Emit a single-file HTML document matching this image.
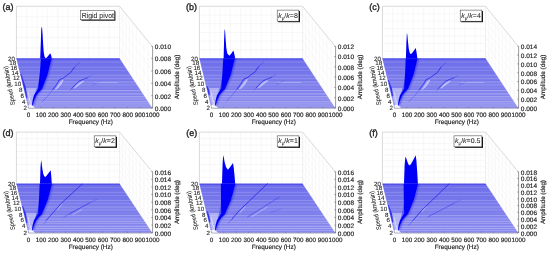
<!DOCTYPE html><html><head><meta charset="utf-8"><style>html,body{margin:0;padding:0;background:#fff;}svg{display:block}</style></head><body>
<svg width="550" height="253" viewBox="0 0 550 253" style="font-family:'Liberation Sans',Arial,sans-serif"><style>text{stroke:#252525;stroke-width:.18px;text-rendering:geometricPrecision}</style>
<defs><filter id="bl" x="0" y="0" width="100%" height="100%" filterUnits="userSpaceOnUse"><feGaussianBlur stdDeviation="0.3"/></filter></defs>
<rect width="550" height="253" fill="#fff"/>
<g filter="url(#bl)">
<g transform="translate(0,0)" fill="#252525" stroke-width=".2">
<line x1="21.56" y1="6.3" x2="21.56" y2="58.5" stroke="#f8f8f8" stroke-width=".5"/>
<line x1="31.88" y1="6.3" x2="31.88" y2="58.5" stroke="#f8f8f8" stroke-width=".5"/>
<line x1="42.2" y1="6.3" x2="42.2" y2="58.5" stroke="#f8f8f8" stroke-width=".5"/>
<line x1="52.52" y1="6.3" x2="52.52" y2="58.5" stroke="#f8f8f8" stroke-width=".5"/>
<line x1="62.84" y1="6.3" x2="62.84" y2="58.5" stroke="#f8f8f8" stroke-width=".5"/>
<line x1="73.16" y1="6.3" x2="73.16" y2="58.5" stroke="#f8f8f8" stroke-width=".5"/>
<line x1="83.48" y1="6.3" x2="83.48" y2="58.5" stroke="#f8f8f8" stroke-width=".5"/>
<line x1="93.8" y1="6.3" x2="93.8" y2="58.5" stroke="#f8f8f8" stroke-width=".5"/>
<line x1="104.12" y1="6.3" x2="104.12" y2="58.5" stroke="#f8f8f8" stroke-width=".5"/>
<line x1="114.44" y1="6.3" x2="114.44" y2="58.5" stroke="#f8f8f8" stroke-width=".5"/>
<line x1="26.72" y1="6.3" x2="26.72" y2="58.5" stroke="#efefef" stroke-width=".5"/>
<line x1="37.04" y1="6.3" x2="37.04" y2="58.5" stroke="#efefef" stroke-width=".5"/>
<line x1="47.36" y1="6.3" x2="47.36" y2="58.5" stroke="#efefef" stroke-width=".5"/>
<line x1="57.68" y1="6.3" x2="57.68" y2="58.5" stroke="#efefef" stroke-width=".5"/>
<line x1="68" y1="6.3" x2="68" y2="58.5" stroke="#efefef" stroke-width=".5"/>
<line x1="78.32" y1="6.3" x2="78.32" y2="58.5" stroke="#efefef" stroke-width=".5"/>
<line x1="88.64" y1="6.3" x2="88.64" y2="58.5" stroke="#efefef" stroke-width=".5"/>
<line x1="98.96" y1="6.3" x2="98.96" y2="58.5" stroke="#efefef" stroke-width=".5"/>
<line x1="109.28" y1="6.3" x2="109.28" y2="58.5" stroke="#efefef" stroke-width=".5"/>
<line x1="16.4" y1="48.06" x2="119.6" y2="48.06" stroke="#efefef" stroke-width=".5"/>
<line x1="119.6" y1="48.06" x2="152.2" y2="95.66" stroke="#f2f2f2" stroke-width=".5"/>
<line x1="16.4" y1="37.62" x2="119.6" y2="37.62" stroke="#efefef" stroke-width=".5"/>
<line x1="119.6" y1="37.62" x2="152.2" y2="83.32" stroke="#f2f2f2" stroke-width=".5"/>
<line x1="16.4" y1="27.18" x2="119.6" y2="27.18" stroke="#efefef" stroke-width=".5"/>
<line x1="119.6" y1="27.18" x2="152.2" y2="70.98" stroke="#f2f2f2" stroke-width=".5"/>
<line x1="16.4" y1="16.74" x2="119.6" y2="16.74" stroke="#efefef" stroke-width=".5"/>
<line x1="119.6" y1="16.74" x2="152.2" y2="58.64" stroke="#f2f2f2" stroke-width=".5"/>
<line x1="147.96" y1="101.57" x2="147.96" y2="41.1" stroke="#f0f0f0" stroke-width=".5"/>
<line x1="143.9" y1="95.4" x2="143.9" y2="36.12" stroke="#f0f0f0" stroke-width=".5"/>
<line x1="140.01" y1="89.49" x2="140.01" y2="31.34" stroke="#f0f0f0" stroke-width=".5"/>
<line x1="136.27" y1="83.81" x2="136.27" y2="26.75" stroke="#f0f0f0" stroke-width=".5"/>
<line x1="132.67" y1="78.35" x2="132.67" y2="22.34" stroke="#f0f0f0" stroke-width=".5"/>
<line x1="129.22" y1="73.1" x2="129.22" y2="18.1" stroke="#f0f0f0" stroke-width=".5"/>
<line x1="125.89" y1="68.05" x2="125.89" y2="14.02" stroke="#f0f0f0" stroke-width=".5"/>
<line x1="122.69" y1="63.19" x2="122.69" y2="10.09" stroke="#f0f0f0" stroke-width=".5"/>
<polyline points="16.4,58.5 16.4,6.3 119.6,6.3 152.2,46.3" fill="none" stroke="#c8c8c8" stroke-width=".7"/>
<line x1="119.6" y1="6.3" x2="119.6" y2="58.5" stroke="#e0e0e0" stroke-width=".5"/>
<polygon points="16.4,58.5 119.6,58.5 152.2,108.0 28.3,108.0" fill="#fff"/>
<path d="M16.4 58.5H119.6M16.51 58.96H119.9M16.62 59.42H120.21M16.73 59.89H120.51M16.85 60.35H120.82M16.96 60.82H121.13M17.07 61.29H121.44M17.18 61.76H121.75M17.3 62.24H122.06M17.41 62.71H122.37M17.53 63.19H122.69M17.64 63.67H123M17.76 64.15H123.32M17.87 64.63H123.64M17.99 65.11H123.95M18.11 65.6H124.27M18.22 66.08H124.59M18.34 66.57H124.92M18.46 67.06H125.24M18.58 67.56H125.56M18.7 68.05H125.89M18.82 68.55H126.22M18.94 69.05H126.55M19.06 69.55H126.88M19.18 70.05H127.21M19.3 70.55H127.54M19.42 71.06H127.87M19.54 71.57H128.21M19.66 72.08H128.54M19.79 72.59H128.88M19.91 73.1H129.22M20.03 73.62H129.56M20.16 74.14H129.9M20.28 74.65H130.24M20.41 75.18H130.58M20.54 75.7H130.93M20.66 76.23H131.27M20.79 76.75H131.62M20.92 77.28H131.97M21.04 77.82H132.32M21.17 78.35H132.67M21.3 78.89H133.03M21.43 79.42H133.38M21.56 79.96H133.74M21.69 80.51H134.09M21.82 81.05H134.45M21.95 81.6H134.81M22.08 82.15H135.17M22.22 82.7H135.54M22.35 83.25H135.9M22.48 83.81H136.27M22.62 84.36H136.63M22.75 84.92H137M22.89 85.49H137.37M23.02 86.05H137.74M23.16 86.62H138.12M23.3 87.19H138.49M23.43 87.76H138.87M23.57 88.33H139.25M23.71 88.91H139.63M23.85 89.49H140.01M23.99 90.07H140.39M24.13 90.65H140.77M24.27 91.24H141.16M24.41 91.82H141.55M24.55 92.41H141.93M24.7 93.01H142.32M24.84 93.6H142.72M24.98 94.2H143.11M25.13 94.8H143.51M25.27 95.4H143.9M25.42 96.01H144.3M25.56 96.61H144.7M25.71 97.22H145.1M25.86 97.84H145.51M26 98.45H145.91M26.15 99.07H146.32M26.3 99.69H146.73M26.45 100.31H147.14M26.6 100.94H147.55M26.75 101.57H147.96M26.91 102.2H148.38M27.06 102.83H148.8M27.21 103.47H149.22M27.36 104.11H149.64M27.52 104.75H150.06M27.67 105.39H150.48M27.83 106.04H150.91M27.99 106.69H151.34M28.14 107.34H151.77M28.3 108H152.2" stroke="#0000dc" stroke-width=".35" fill="none"/>
<line x1="17.27" y1="62.1" x2="121.97" y2="62.1" stroke="#fff" stroke-width=".7" stroke-opacity="0.25"/>
<line x1="18.47" y1="67.1" x2="125.26" y2="67.1" stroke="#fff" stroke-width=".7" stroke-opacity="0.25"/>
<line x1="19.26" y1="70.4" x2="127.44" y2="70.4" stroke="#fff" stroke-width=".7" stroke-opacity="0.2"/>
<line x1="20.46" y1="75.4" x2="130.73" y2="75.4" stroke="#fff" stroke-width=".7" stroke-opacity="0.25"/>
<line x1="21.26" y1="78.7" x2="132.9" y2="78.7" stroke="#fff" stroke-width=".7" stroke-opacity="0.25"/>
<line x1="22.05" y1="82" x2="135.08" y2="82" stroke="#fff" stroke-width=".7" stroke-opacity="0.35"/>
<line x1="22.77" y1="85" x2="137.05" y2="85" stroke="#fff" stroke-width=".7" stroke-opacity="0.3"/>
<line x1="24.09" y1="90.5" x2="140.67" y2="90.5" stroke="#fff" stroke-width=".7" stroke-opacity="0.35"/>
<line x1="24.89" y1="93.8" x2="142.85" y2="93.8" stroke="#fff" stroke-width=".7" stroke-opacity="0.4"/>
<line x1="25.56" y1="96.6" x2="144.69" y2="96.6" stroke="#fff" stroke-width=".7" stroke-opacity="0.4"/>
<line x1="26.09" y1="98.8" x2="146.14" y2="98.8" stroke="#fff" stroke-width=".7" stroke-opacity="0.3"/>
<line x1="26.76" y1="101.6" x2="147.99" y2="101.6" stroke="#fff" stroke-width=".7" stroke-opacity="0.4"/>
<line x1="27.29" y1="103.8" x2="149.43" y2="103.8" stroke="#fff" stroke-width=".7" stroke-opacity="0.4"/>
<line x1="27.82" y1="106" x2="150.88" y2="106" stroke="#fff" stroke-width=".7" stroke-opacity="0.3"/>
<line x1="16.4" y1="59.2" x2="120.1" y2="59.2" stroke="#2020f0" stroke-width="1" stroke-opacity=".35"/>
<polygon points="20.53,74 21.33,74 25.31,86.0 28.5,98 26.5,98.5" fill="#1a1cf8" opacity=".8"/>
<polygon points="26.09,88 36.5,88 34,95.5 32.7,100 31.8,105.6 29.5,105.5 27.38,100" fill="#d4d4fb" opacity=".55"/>
<polyline points="28,92 29.5,99 31.5,105" fill="none" stroke="#e8e8fe" stroke-width=".9" opacity=".8"/>
<polygon points="28.3,108.2 35.2,108.2 32.8,105.8 30.6,104.6 28.6,105" fill="#f6f6ff"/>
<polygon points="35.2,105.5 36.9,100 38.9,95.5 41.6,92 44.6,89 50.12,75 54.1,58.5 44.9,58.5 33,104" fill="#3034f0" opacity=".18"/>
<polygon points="33.9,105.5 35.6,100 37.6,95.5 40.3,92 43.3,89 48.82,75 52.8,58.5 44.9,58.5 33,104" fill="#2024f0" opacity=".3"/>
<polygon points="54.6,89.6 57.5,86 60,82 62.8,79.2 63.6,80.2 61.8,83.8 58.8,87.4 56,89.8" fill="#e2e2fd" opacity="0.6"/>
<polygon points="73.6,88.2 77,84.6 80.5,82 83.5,80.6 84,81.6 81,83.8 77.5,86.6 74.8,88.6" fill="#e2e2fd" opacity="0.6"/>
<polyline points="42.4,101.7 48.7,94.9 53.1,89.2" fill="none" stroke="#1418f0" stroke-width="0.6" stroke-linecap="round" stroke-linejoin="round" opacity="0.45"/>
<polyline points="53.1,89.2 56.5,84.5 59.8,79.4 62.8,78.4 66.5,75.5 70.6,72.7 74.2,67.4" fill="none" stroke="#1418f0" stroke-width="0.75" stroke-linecap="round" stroke-linejoin="round" opacity="0.95"/>
<polyline points="74.2,67.4 79.3,62.6" fill="none" stroke="#1418f0" stroke-width="0.6" stroke-linecap="round" stroke-linejoin="round" opacity="0.5"/>
<polyline points="70,90.7 71.9,88.3" fill="none" stroke="#1418f0" stroke-width="0.6" stroke-linecap="round" stroke-linejoin="round" opacity="0.35"/>
<polyline points="71.9,88.3 75,85 78.8,81.4 81.8,79.9 87.2,77.9" fill="none" stroke="#1418f0" stroke-width="0.7" stroke-linecap="round" stroke-linejoin="round" opacity="0.85"/>
<polyline points="87.2,77.9 91,75.5" fill="none" stroke="#1418f0" stroke-width="0.6" stroke-linecap="round" stroke-linejoin="round" opacity="0.4"/>
<polyline points="92.7,85.3 99,81.5" fill="none" stroke="#1418f0" stroke-width="0.6" stroke-linecap="round" stroke-linejoin="round" opacity="0.35"/>
<line x1="95" y1="82.5" x2="118" y2="82.5" stroke="#fff" stroke-width=".8" stroke-opacity=".3"/>
<polygon points="40.9,58.5 39.92,72 38.1,88.5 36,92 33.9,95.5 32.7,100 31.8,105.6 32.6,105.5 34.3,100 36.3,95.5 39,92 42,89 47.52,75 51.5,58.5" fill="#0505f8"/>
<polygon points="40.2,58.6 40.9,40 41.2,30 41.6,26.8 42.1,28 42.6,35 43.2,45 43.7,52 44.5,56.5 45.7,58.4 47,57.3 48.5,55.5 50.2,53.2 51,55 51.9,58.6" fill="#0000f6"/>
<line x1="28.3" y1="108.2" x2="152.2" y2="108.2" stroke="#9a9a9a" stroke-width=".6"/>
<line x1="152.6" y1="46.3" x2="152.6" y2="108.3" stroke="#555" stroke-width=".6"/>
<line x1="151.2" y1="108" x2="152.6" y2="108" stroke="#555" stroke-width=".5"/>
<line x1="151.2" y1="95.66" x2="152.6" y2="95.66" stroke="#555" stroke-width=".5"/>
<line x1="151.2" y1="83.32" x2="152.6" y2="83.32" stroke="#555" stroke-width=".5"/>
<line x1="151.2" y1="70.98" x2="152.6" y2="70.98" stroke="#555" stroke-width=".5"/>
<line x1="151.2" y1="58.64" x2="152.6" y2="58.64" stroke="#555" stroke-width=".5"/>
<line x1="151.2" y1="46.3" x2="152.6" y2="46.3" stroke="#555" stroke-width=".5"/>
<line x1="28.3" y1="108.0" x2="28.3" y2="106.8" stroke="#666" stroke-width=".5"/>
<line x1="40.69" y1="108.0" x2="40.69" y2="106.8" stroke="#666" stroke-width=".5"/>
<line x1="53.08" y1="108.0" x2="53.08" y2="106.8" stroke="#666" stroke-width=".5"/>
<line x1="65.47" y1="108.0" x2="65.47" y2="106.8" stroke="#666" stroke-width=".5"/>
<line x1="77.86" y1="108.0" x2="77.86" y2="106.8" stroke="#666" stroke-width=".5"/>
<line x1="90.25" y1="108.0" x2="90.25" y2="106.8" stroke="#666" stroke-width=".5"/>
<line x1="102.64" y1="108.0" x2="102.64" y2="106.8" stroke="#666" stroke-width=".5"/>
<line x1="115.03" y1="108.0" x2="115.03" y2="106.8" stroke="#666" stroke-width=".5"/>
<line x1="127.42" y1="108.0" x2="127.42" y2="106.8" stroke="#666" stroke-width=".5"/>
<line x1="139.81" y1="108.0" x2="139.81" y2="106.8" stroke="#666" stroke-width=".5"/>
<line x1="152.2" y1="108.0" x2="152.2" y2="106.8" stroke="#666" stroke-width=".5"/>
<text x="154.8" y="110.85" font-size="6.5">0.000</text>
<text x="154.8" y="98.51" font-size="6.5">0.002</text>
<text x="154.8" y="86.17" font-size="6.5">0.004</text>
<text x="154.8" y="73.83" font-size="6.5">0.006</text>
<text x="154.8" y="61.49" font-size="6.5">0.008</text>
<text x="154.8" y="49.15" font-size="6.5">0.010</text>
<text x="28.6" y="116.9" font-size="6.3" text-anchor="middle">0</text>
<text x="40.99" y="116.9" font-size="6.3" text-anchor="middle">100</text>
<text x="53.38" y="116.9" font-size="6.3" text-anchor="middle">200</text>
<text x="65.77" y="116.9" font-size="6.3" text-anchor="middle">300</text>
<text x="78.16" y="116.9" font-size="6.3" text-anchor="middle">400</text>
<text x="90.55" y="116.9" font-size="6.3" text-anchor="middle">500</text>
<text x="102.94" y="116.9" font-size="6.3" text-anchor="middle">600</text>
<text x="115.33" y="116.9" font-size="6.3" text-anchor="middle">700</text>
<text x="127.72" y="116.9" font-size="6.3" text-anchor="middle">800</text>
<text x="140.11" y="116.9" font-size="6.3" text-anchor="middle">900</text>
<text x="152.5" y="116.9" font-size="6.3" text-anchor="middle">1000</text>
<text x="26.9" y="110.1" font-size="6.2" text-anchor="end" style="stroke-width:.1px">2</text>
<text x="25.35" y="103.67" font-size="6.2" text-anchor="end" style="stroke-width:.1px">4</text>
<text x="23.87" y="97.5" font-size="6.2" text-anchor="end" style="stroke-width:.1px">6</text>
<text x="22.45" y="91.59" font-size="6.2" text-anchor="end" style="stroke-width:.1px">8</text>
<text x="21.08" y="85.91" font-size="6.2" text-anchor="end" style="stroke-width:.1px">10</text>
<text x="19.77" y="80.45" font-size="6.2" text-anchor="end" style="stroke-width:.1px">12</text>
<text x="18.51" y="75.2" font-size="6.2" text-anchor="end" style="stroke-width:.1px">14</text>
<text x="17.3" y="70.15" font-size="6.2" text-anchor="end" style="stroke-width:.1px">16</text>
<text x="16.13" y="65.29" font-size="6.2" text-anchor="end" style="stroke-width:.1px">18</text>
<text x="15" y="60.6" font-size="6.2" text-anchor="end" style="stroke-width:.1px">20</text>
<text x="90.75" y="124.4" font-size="6.4" text-anchor="middle">Frequency (Hz)</text>
<text transform="translate(179.3,77) rotate(-90)" font-size="6.3" text-anchor="middle">Amplitude (deg)</text>
<text transform="translate(9.15,85.65) rotate(-100.7) scale(.89,1)" y="2.2" font-size="6.3" text-anchor="middle" style="stroke-width:.08px">Speed (km/min)</text>
<text x="2.5" y="9.9" font-size="9" style="stroke-width:.35px">(a)</text>
<rect x="81.4" y="11.3" width="34" height="9.4" fill="#111"/>
<rect x="80.5" y="10.4" width="34" height="9.4" fill="#fff" stroke="#333" stroke-width=".5"/>
<text x="81.7" y="18" font-size="7.4" textLength="32.2" lengthAdjust="spacingAndGlyphs" style="stroke-width:.05px">Rigid pivot</text>
</g>
<g transform="translate(183,0)" fill="#252525" stroke-width=".2">
<line x1="21.56" y1="6.3" x2="21.56" y2="58.5" stroke="#f8f8f8" stroke-width=".5"/>
<line x1="31.88" y1="6.3" x2="31.88" y2="58.5" stroke="#f8f8f8" stroke-width=".5"/>
<line x1="42.2" y1="6.3" x2="42.2" y2="58.5" stroke="#f8f8f8" stroke-width=".5"/>
<line x1="52.52" y1="6.3" x2="52.52" y2="58.5" stroke="#f8f8f8" stroke-width=".5"/>
<line x1="62.84" y1="6.3" x2="62.84" y2="58.5" stroke="#f8f8f8" stroke-width=".5"/>
<line x1="73.16" y1="6.3" x2="73.16" y2="58.5" stroke="#f8f8f8" stroke-width=".5"/>
<line x1="83.48" y1="6.3" x2="83.48" y2="58.5" stroke="#f8f8f8" stroke-width=".5"/>
<line x1="93.8" y1="6.3" x2="93.8" y2="58.5" stroke="#f8f8f8" stroke-width=".5"/>
<line x1="104.12" y1="6.3" x2="104.12" y2="58.5" stroke="#f8f8f8" stroke-width=".5"/>
<line x1="114.44" y1="6.3" x2="114.44" y2="58.5" stroke="#f8f8f8" stroke-width=".5"/>
<line x1="26.72" y1="6.3" x2="26.72" y2="58.5" stroke="#efefef" stroke-width=".5"/>
<line x1="37.04" y1="6.3" x2="37.04" y2="58.5" stroke="#efefef" stroke-width=".5"/>
<line x1="47.36" y1="6.3" x2="47.36" y2="58.5" stroke="#efefef" stroke-width=".5"/>
<line x1="57.68" y1="6.3" x2="57.68" y2="58.5" stroke="#efefef" stroke-width=".5"/>
<line x1="68" y1="6.3" x2="68" y2="58.5" stroke="#efefef" stroke-width=".5"/>
<line x1="78.32" y1="6.3" x2="78.32" y2="58.5" stroke="#efefef" stroke-width=".5"/>
<line x1="88.64" y1="6.3" x2="88.64" y2="58.5" stroke="#efefef" stroke-width=".5"/>
<line x1="98.96" y1="6.3" x2="98.96" y2="58.5" stroke="#efefef" stroke-width=".5"/>
<line x1="109.28" y1="6.3" x2="109.28" y2="58.5" stroke="#efefef" stroke-width=".5"/>
<line x1="16.4" y1="49.8" x2="119.6" y2="49.8" stroke="#efefef" stroke-width=".5"/>
<line x1="119.6" y1="49.8" x2="152.2" y2="97.72" stroke="#f2f2f2" stroke-width=".5"/>
<line x1="16.4" y1="41.1" x2="119.6" y2="41.1" stroke="#efefef" stroke-width=".5"/>
<line x1="119.6" y1="41.1" x2="152.2" y2="87.43" stroke="#f2f2f2" stroke-width=".5"/>
<line x1="16.4" y1="32.4" x2="119.6" y2="32.4" stroke="#efefef" stroke-width=".5"/>
<line x1="119.6" y1="32.4" x2="152.2" y2="77.15" stroke="#f2f2f2" stroke-width=".5"/>
<line x1="16.4" y1="23.7" x2="119.6" y2="23.7" stroke="#efefef" stroke-width=".5"/>
<line x1="119.6" y1="23.7" x2="152.2" y2="66.87" stroke="#f2f2f2" stroke-width=".5"/>
<line x1="16.4" y1="15" x2="119.6" y2="15" stroke="#efefef" stroke-width=".5"/>
<line x1="119.6" y1="15" x2="152.2" y2="56.58" stroke="#f2f2f2" stroke-width=".5"/>
<line x1="147.96" y1="101.57" x2="147.96" y2="41.1" stroke="#f0f0f0" stroke-width=".5"/>
<line x1="143.9" y1="95.4" x2="143.9" y2="36.12" stroke="#f0f0f0" stroke-width=".5"/>
<line x1="140.01" y1="89.49" x2="140.01" y2="31.34" stroke="#f0f0f0" stroke-width=".5"/>
<line x1="136.27" y1="83.81" x2="136.27" y2="26.75" stroke="#f0f0f0" stroke-width=".5"/>
<line x1="132.67" y1="78.35" x2="132.67" y2="22.34" stroke="#f0f0f0" stroke-width=".5"/>
<line x1="129.22" y1="73.1" x2="129.22" y2="18.1" stroke="#f0f0f0" stroke-width=".5"/>
<line x1="125.89" y1="68.05" x2="125.89" y2="14.02" stroke="#f0f0f0" stroke-width=".5"/>
<line x1="122.69" y1="63.19" x2="122.69" y2="10.09" stroke="#f0f0f0" stroke-width=".5"/>
<polyline points="16.4,58.5 16.4,6.3 119.6,6.3 152.2,46.3" fill="none" stroke="#c8c8c8" stroke-width=".7"/>
<line x1="119.6" y1="6.3" x2="119.6" y2="58.5" stroke="#e0e0e0" stroke-width=".5"/>
<polygon points="16.4,58.5 119.6,58.5 152.2,108.0 28.3,108.0" fill="#fff"/>
<path d="M16.4 58.5H119.6M16.51 58.96H119.9M16.62 59.42H120.21M16.73 59.89H120.51M16.85 60.35H120.82M16.96 60.82H121.13M17.07 61.29H121.44M17.18 61.76H121.75M17.3 62.24H122.06M17.41 62.71H122.37M17.53 63.19H122.69M17.64 63.67H123M17.76 64.15H123.32M17.87 64.63H123.64M17.99 65.11H123.95M18.11 65.6H124.27M18.22 66.08H124.59M18.34 66.57H124.92M18.46 67.06H125.24M18.58 67.56H125.56M18.7 68.05H125.89M18.82 68.55H126.22M18.94 69.05H126.55M19.06 69.55H126.88M19.18 70.05H127.21M19.3 70.55H127.54M19.42 71.06H127.87M19.54 71.57H128.21M19.66 72.08H128.54M19.79 72.59H128.88M19.91 73.1H129.22M20.03 73.62H129.56M20.16 74.14H129.9M20.28 74.65H130.24M20.41 75.18H130.58M20.54 75.7H130.93M20.66 76.23H131.27M20.79 76.75H131.62M20.92 77.28H131.97M21.04 77.82H132.32M21.17 78.35H132.67M21.3 78.89H133.03M21.43 79.42H133.38M21.56 79.96H133.74M21.69 80.51H134.09M21.82 81.05H134.45M21.95 81.6H134.81M22.08 82.15H135.17M22.22 82.7H135.54M22.35 83.25H135.9M22.48 83.81H136.27M22.62 84.36H136.63M22.75 84.92H137M22.89 85.49H137.37M23.02 86.05H137.74M23.16 86.62H138.12M23.3 87.19H138.49M23.43 87.76H138.87M23.57 88.33H139.25M23.71 88.91H139.63M23.85 89.49H140.01M23.99 90.07H140.39M24.13 90.65H140.77M24.27 91.24H141.16M24.41 91.82H141.55M24.55 92.41H141.93M24.7 93.01H142.32M24.84 93.6H142.72M24.98 94.2H143.11M25.13 94.8H143.51M25.27 95.4H143.9M25.42 96.01H144.3M25.56 96.61H144.7M25.71 97.22H145.1M25.86 97.84H145.51M26 98.45H145.91M26.15 99.07H146.32M26.3 99.69H146.73M26.45 100.31H147.14M26.6 100.94H147.55M26.75 101.57H147.96M26.91 102.2H148.38M27.06 102.83H148.8M27.21 103.47H149.22M27.36 104.11H149.64M27.52 104.75H150.06M27.67 105.39H150.48M27.83 106.04H150.91M27.99 106.69H151.34M28.14 107.34H151.77M28.3 108H152.2" stroke="#0000dc" stroke-width=".35" fill="none"/>
<line x1="17.27" y1="62.1" x2="121.97" y2="62.1" stroke="#fff" stroke-width=".7" stroke-opacity="0.25"/>
<line x1="18.47" y1="67.1" x2="125.26" y2="67.1" stroke="#fff" stroke-width=".7" stroke-opacity="0.25"/>
<line x1="19.26" y1="70.4" x2="127.44" y2="70.4" stroke="#fff" stroke-width=".7" stroke-opacity="0.2"/>
<line x1="20.46" y1="75.4" x2="130.73" y2="75.4" stroke="#fff" stroke-width=".7" stroke-opacity="0.25"/>
<line x1="21.26" y1="78.7" x2="132.9" y2="78.7" stroke="#fff" stroke-width=".7" stroke-opacity="0.25"/>
<line x1="22.05" y1="82" x2="135.08" y2="82" stroke="#fff" stroke-width=".7" stroke-opacity="0.35"/>
<line x1="22.77" y1="85" x2="137.05" y2="85" stroke="#fff" stroke-width=".7" stroke-opacity="0.3"/>
<line x1="24.09" y1="90.5" x2="140.67" y2="90.5" stroke="#fff" stroke-width=".7" stroke-opacity="0.35"/>
<line x1="24.89" y1="93.8" x2="142.85" y2="93.8" stroke="#fff" stroke-width=".7" stroke-opacity="0.4"/>
<line x1="25.56" y1="96.6" x2="144.69" y2="96.6" stroke="#fff" stroke-width=".7" stroke-opacity="0.4"/>
<line x1="26.09" y1="98.8" x2="146.14" y2="98.8" stroke="#fff" stroke-width=".7" stroke-opacity="0.3"/>
<line x1="26.76" y1="101.6" x2="147.99" y2="101.6" stroke="#fff" stroke-width=".7" stroke-opacity="0.4"/>
<line x1="27.29" y1="103.8" x2="149.43" y2="103.8" stroke="#fff" stroke-width=".7" stroke-opacity="0.4"/>
<line x1="27.82" y1="106" x2="150.88" y2="106" stroke="#fff" stroke-width=".7" stroke-opacity="0.3"/>
<line x1="16.4" y1="59.2" x2="120.1" y2="59.2" stroke="#2020f0" stroke-width="1" stroke-opacity=".35"/>
<polygon points="23.41,86 24.21,86 26.33,90.25 27.65,94.5 25.65,95.0" fill="#1a1cf8" opacity=".8"/>
<polygon points="26.09,88 36.5,88 34,95.5 32.7,100 31.8,105.6 29.5,105.5 27.38,100" fill="#d4d4fb" opacity=".55"/>
<polyline points="28,92 29.5,99 31.5,105" fill="none" stroke="#e8e8fe" stroke-width=".9" opacity=".8"/>
<polygon points="28.3,108.2 35.2,108.2 32.8,105.8 30.6,104.6 28.6,105" fill="#f6f6ff"/>
<polygon points="35.2,105.5 36.9,100 38.9,95.5 41.6,92 44.6,89 50.34,75 54.5,58.5 44.2,58.5 33,104" fill="#3034f0" opacity=".18"/>
<polygon points="33.9,105.5 35.6,100 37.6,95.5 40.3,92 43.3,89 49.04,75 53.2,58.5 44.2,58.5 33,104" fill="#2024f0" opacity=".3"/>
<polygon points="55.8,89.1 58.7,85.5 61.2,81.5 64,78.7 64.8,79.7 63,83.3 60,86.9 57.2,89.3" fill="#e2e2fd" opacity="0.6"/>
<polygon points="74.8,87.7 78.2,84.1 81.7,81.5 84.7,80.1 85.2,81.1 82.2,83.3 78.7,86.1 76,88.1" fill="#e2e2fd" opacity="0.6"/>
<polyline points="43.6,101.2 49.9,94.4 54.3,88.7" fill="none" stroke="#1418f0" stroke-width="0.6" stroke-linecap="round" stroke-linejoin="round" opacity="0.45"/>
<polyline points="54.3,88.7 57.7,84 61,78.9 64,77.9 67.7,75 71.8,72.2 75.4,66.9" fill="none" stroke="#1418f0" stroke-width="0.75" stroke-linecap="round" stroke-linejoin="round" opacity="0.95"/>
<polyline points="75.4,66.9 80.5,62.1" fill="none" stroke="#1418f0" stroke-width="0.6" stroke-linecap="round" stroke-linejoin="round" opacity="0.5"/>
<polyline points="71.2,90.2 73.1,87.8" fill="none" stroke="#1418f0" stroke-width="0.6" stroke-linecap="round" stroke-linejoin="round" opacity="0.35"/>
<polyline points="73.1,87.8 76.2,84.5 80,80.9 83,79.4 88.4,77.4" fill="none" stroke="#1418f0" stroke-width="0.7" stroke-linecap="round" stroke-linejoin="round" opacity="0.85"/>
<polyline points="88.4,77.4 92.2,75" fill="none" stroke="#1418f0" stroke-width="0.6" stroke-linecap="round" stroke-linejoin="round" opacity="0.4"/>
<polyline points="93.9,84.8 100.2,81" fill="none" stroke="#1418f0" stroke-width="0.6" stroke-linecap="round" stroke-linejoin="round" opacity="0.35"/>
<line x1="95" y1="82.5" x2="118" y2="82.5" stroke="#fff" stroke-width=".8" stroke-opacity=".3"/>
<polygon points="40.2,58.5 39.47,72 38.1,88.5 36,92 33.9,95.5 32.7,100 31.8,105.6 32.6,105.5 34.3,100 36.3,95.5 39,92 42,89 47.74,75 51.9,58.5" fill="#0505f8"/>
<polygon points="40.6,58.6 41.1,40 41.6,29.1 42.1,31 42.7,40 43.3,48 44.3,53.5 46.3,55.7 48,54 50.4,50.6 51.2,53.5 52.2,58.6" fill="#0000f6"/>
<line x1="28.3" y1="108.2" x2="152.2" y2="108.2" stroke="#9a9a9a" stroke-width=".6"/>
<line x1="152.6" y1="46.3" x2="152.6" y2="108.3" stroke="#555" stroke-width=".6"/>
<line x1="151.2" y1="108" x2="152.6" y2="108" stroke="#555" stroke-width=".5"/>
<line x1="151.2" y1="97.72" x2="152.6" y2="97.72" stroke="#555" stroke-width=".5"/>
<line x1="151.2" y1="87.43" x2="152.6" y2="87.43" stroke="#555" stroke-width=".5"/>
<line x1="151.2" y1="77.15" x2="152.6" y2="77.15" stroke="#555" stroke-width=".5"/>
<line x1="151.2" y1="66.87" x2="152.6" y2="66.87" stroke="#555" stroke-width=".5"/>
<line x1="151.2" y1="56.58" x2="152.6" y2="56.58" stroke="#555" stroke-width=".5"/>
<line x1="151.2" y1="46.3" x2="152.6" y2="46.3" stroke="#555" stroke-width=".5"/>
<line x1="28.3" y1="108.0" x2="28.3" y2="106.8" stroke="#666" stroke-width=".5"/>
<line x1="40.69" y1="108.0" x2="40.69" y2="106.8" stroke="#666" stroke-width=".5"/>
<line x1="53.08" y1="108.0" x2="53.08" y2="106.8" stroke="#666" stroke-width=".5"/>
<line x1="65.47" y1="108.0" x2="65.47" y2="106.8" stroke="#666" stroke-width=".5"/>
<line x1="77.86" y1="108.0" x2="77.86" y2="106.8" stroke="#666" stroke-width=".5"/>
<line x1="90.25" y1="108.0" x2="90.25" y2="106.8" stroke="#666" stroke-width=".5"/>
<line x1="102.64" y1="108.0" x2="102.64" y2="106.8" stroke="#666" stroke-width=".5"/>
<line x1="115.03" y1="108.0" x2="115.03" y2="106.8" stroke="#666" stroke-width=".5"/>
<line x1="127.42" y1="108.0" x2="127.42" y2="106.8" stroke="#666" stroke-width=".5"/>
<line x1="139.81" y1="108.0" x2="139.81" y2="106.8" stroke="#666" stroke-width=".5"/>
<line x1="152.2" y1="108.0" x2="152.2" y2="106.8" stroke="#666" stroke-width=".5"/>
<text x="154.8" y="110.85" font-size="6.5">0.000</text>
<text x="154.8" y="100.57" font-size="6.5">0.002</text>
<text x="154.8" y="90.28" font-size="6.5">0.004</text>
<text x="154.8" y="80" font-size="6.5">0.006</text>
<text x="154.8" y="69.72" font-size="6.5">0.008</text>
<text x="154.8" y="59.43" font-size="6.5">0.010</text>
<text x="154.8" y="49.15" font-size="6.5">0.012</text>
<text x="28.6" y="116.9" font-size="6.3" text-anchor="middle">0</text>
<text x="40.99" y="116.9" font-size="6.3" text-anchor="middle">100</text>
<text x="53.38" y="116.9" font-size="6.3" text-anchor="middle">200</text>
<text x="65.77" y="116.9" font-size="6.3" text-anchor="middle">300</text>
<text x="78.16" y="116.9" font-size="6.3" text-anchor="middle">400</text>
<text x="90.55" y="116.9" font-size="6.3" text-anchor="middle">500</text>
<text x="102.94" y="116.9" font-size="6.3" text-anchor="middle">600</text>
<text x="115.33" y="116.9" font-size="6.3" text-anchor="middle">700</text>
<text x="127.72" y="116.9" font-size="6.3" text-anchor="middle">800</text>
<text x="140.11" y="116.9" font-size="6.3" text-anchor="middle">900</text>
<text x="152.5" y="116.9" font-size="6.3" text-anchor="middle">1000</text>
<text x="26.9" y="110.1" font-size="6.2" text-anchor="end" style="stroke-width:.1px">2</text>
<text x="25.35" y="103.67" font-size="6.2" text-anchor="end" style="stroke-width:.1px">4</text>
<text x="23.87" y="97.5" font-size="6.2" text-anchor="end" style="stroke-width:.1px">6</text>
<text x="22.45" y="91.59" font-size="6.2" text-anchor="end" style="stroke-width:.1px">8</text>
<text x="21.08" y="85.91" font-size="6.2" text-anchor="end" style="stroke-width:.1px">10</text>
<text x="19.77" y="80.45" font-size="6.2" text-anchor="end" style="stroke-width:.1px">12</text>
<text x="18.51" y="75.2" font-size="6.2" text-anchor="end" style="stroke-width:.1px">14</text>
<text x="17.3" y="70.15" font-size="6.2" text-anchor="end" style="stroke-width:.1px">16</text>
<text x="16.13" y="65.29" font-size="6.2" text-anchor="end" style="stroke-width:.1px">18</text>
<text x="15" y="60.6" font-size="6.2" text-anchor="end" style="stroke-width:.1px">20</text>
<text x="90.75" y="124.4" font-size="6.4" text-anchor="middle">Frequency (Hz)</text>
<text transform="translate(179.3,77) rotate(-90)" font-size="6.3" text-anchor="middle">Amplitude (deg)</text>
<text transform="translate(9.15,85.65) rotate(-100.7) scale(.89,1)" y="2.2" font-size="6.3" text-anchor="middle" style="stroke-width:.08px">Speed (km/min)</text>
<text x="3" y="9.9" font-size="9" style="stroke-width:.35px">(b)</text>
<rect x="95.3" y="11.1" width="21.7" height="11.1" fill="#111"/>
<rect x="94.2" y="10.1" width="21.7" height="11.1" fill="#fff" stroke="#333" stroke-width=".5"/>
<text x="95.3" y="17.6" font-size="7" style="stroke-width:.05px"><tspan font-style="italic">k</tspan><tspan font-size="4.6" dy="1.9">p</tspan><tspan dy="-1.9">/</tspan><tspan font-style="italic">k</tspan>=8</text>
</g>
<g transform="translate(366,0)" fill="#252525" stroke-width=".2">
<line x1="21.56" y1="6.3" x2="21.56" y2="58.5" stroke="#f8f8f8" stroke-width=".5"/>
<line x1="31.88" y1="6.3" x2="31.88" y2="58.5" stroke="#f8f8f8" stroke-width=".5"/>
<line x1="42.2" y1="6.3" x2="42.2" y2="58.5" stroke="#f8f8f8" stroke-width=".5"/>
<line x1="52.52" y1="6.3" x2="52.52" y2="58.5" stroke="#f8f8f8" stroke-width=".5"/>
<line x1="62.84" y1="6.3" x2="62.84" y2="58.5" stroke="#f8f8f8" stroke-width=".5"/>
<line x1="73.16" y1="6.3" x2="73.16" y2="58.5" stroke="#f8f8f8" stroke-width=".5"/>
<line x1="83.48" y1="6.3" x2="83.48" y2="58.5" stroke="#f8f8f8" stroke-width=".5"/>
<line x1="93.8" y1="6.3" x2="93.8" y2="58.5" stroke="#f8f8f8" stroke-width=".5"/>
<line x1="104.12" y1="6.3" x2="104.12" y2="58.5" stroke="#f8f8f8" stroke-width=".5"/>
<line x1="114.44" y1="6.3" x2="114.44" y2="58.5" stroke="#f8f8f8" stroke-width=".5"/>
<line x1="26.72" y1="6.3" x2="26.72" y2="58.5" stroke="#efefef" stroke-width=".5"/>
<line x1="37.04" y1="6.3" x2="37.04" y2="58.5" stroke="#efefef" stroke-width=".5"/>
<line x1="47.36" y1="6.3" x2="47.36" y2="58.5" stroke="#efefef" stroke-width=".5"/>
<line x1="57.68" y1="6.3" x2="57.68" y2="58.5" stroke="#efefef" stroke-width=".5"/>
<line x1="68" y1="6.3" x2="68" y2="58.5" stroke="#efefef" stroke-width=".5"/>
<line x1="78.32" y1="6.3" x2="78.32" y2="58.5" stroke="#efefef" stroke-width=".5"/>
<line x1="88.64" y1="6.3" x2="88.64" y2="58.5" stroke="#efefef" stroke-width=".5"/>
<line x1="98.96" y1="6.3" x2="98.96" y2="58.5" stroke="#efefef" stroke-width=".5"/>
<line x1="109.28" y1="6.3" x2="109.28" y2="58.5" stroke="#efefef" stroke-width=".5"/>
<line x1="16.4" y1="51.04" x2="119.6" y2="51.04" stroke="#efefef" stroke-width=".5"/>
<line x1="119.6" y1="51.04" x2="152.2" y2="99.19" stroke="#f2f2f2" stroke-width=".5"/>
<line x1="16.4" y1="43.59" x2="119.6" y2="43.59" stroke="#efefef" stroke-width=".5"/>
<line x1="119.6" y1="43.59" x2="152.2" y2="90.37" stroke="#f2f2f2" stroke-width=".5"/>
<line x1="16.4" y1="36.13" x2="119.6" y2="36.13" stroke="#efefef" stroke-width=".5"/>
<line x1="119.6" y1="36.13" x2="152.2" y2="81.56" stroke="#f2f2f2" stroke-width=".5"/>
<line x1="16.4" y1="28.67" x2="119.6" y2="28.67" stroke="#efefef" stroke-width=".5"/>
<line x1="119.6" y1="28.67" x2="152.2" y2="72.74" stroke="#f2f2f2" stroke-width=".5"/>
<line x1="16.4" y1="21.21" x2="119.6" y2="21.21" stroke="#efefef" stroke-width=".5"/>
<line x1="119.6" y1="21.21" x2="152.2" y2="63.93" stroke="#f2f2f2" stroke-width=".5"/>
<line x1="16.4" y1="13.76" x2="119.6" y2="13.76" stroke="#efefef" stroke-width=".5"/>
<line x1="119.6" y1="13.76" x2="152.2" y2="55.11" stroke="#f2f2f2" stroke-width=".5"/>
<line x1="147.96" y1="101.57" x2="147.96" y2="41.1" stroke="#f0f0f0" stroke-width=".5"/>
<line x1="143.9" y1="95.4" x2="143.9" y2="36.12" stroke="#f0f0f0" stroke-width=".5"/>
<line x1="140.01" y1="89.49" x2="140.01" y2="31.34" stroke="#f0f0f0" stroke-width=".5"/>
<line x1="136.27" y1="83.81" x2="136.27" y2="26.75" stroke="#f0f0f0" stroke-width=".5"/>
<line x1="132.67" y1="78.35" x2="132.67" y2="22.34" stroke="#f0f0f0" stroke-width=".5"/>
<line x1="129.22" y1="73.1" x2="129.22" y2="18.1" stroke="#f0f0f0" stroke-width=".5"/>
<line x1="125.89" y1="68.05" x2="125.89" y2="14.02" stroke="#f0f0f0" stroke-width=".5"/>
<line x1="122.69" y1="63.19" x2="122.69" y2="10.09" stroke="#f0f0f0" stroke-width=".5"/>
<polyline points="16.4,58.5 16.4,6.3 119.6,6.3 152.2,46.3" fill="none" stroke="#c8c8c8" stroke-width=".7"/>
<line x1="119.6" y1="6.3" x2="119.6" y2="58.5" stroke="#e0e0e0" stroke-width=".5"/>
<polygon points="16.4,58.5 119.6,58.5 152.2,108.0 28.3,108.0" fill="#fff"/>
<path d="M16.4 58.5H119.6M16.51 58.96H119.9M16.62 59.42H120.21M16.73 59.89H120.51M16.85 60.35H120.82M16.96 60.82H121.13M17.07 61.29H121.44M17.18 61.76H121.75M17.3 62.24H122.06M17.41 62.71H122.37M17.53 63.19H122.69M17.64 63.67H123M17.76 64.15H123.32M17.87 64.63H123.64M17.99 65.11H123.95M18.11 65.6H124.27M18.22 66.08H124.59M18.34 66.57H124.92M18.46 67.06H125.24M18.58 67.56H125.56M18.7 68.05H125.89M18.82 68.55H126.22M18.94 69.05H126.55M19.06 69.55H126.88M19.18 70.05H127.21M19.3 70.55H127.54M19.42 71.06H127.87M19.54 71.57H128.21M19.66 72.08H128.54M19.79 72.59H128.88M19.91 73.1H129.22M20.03 73.62H129.56M20.16 74.14H129.9M20.28 74.65H130.24M20.41 75.18H130.58M20.54 75.7H130.93M20.66 76.23H131.27M20.79 76.75H131.62M20.92 77.28H131.97M21.04 77.82H132.32M21.17 78.35H132.67M21.3 78.89H133.03M21.43 79.42H133.38M21.56 79.96H133.74M21.69 80.51H134.09M21.82 81.05H134.45M21.95 81.6H134.81M22.08 82.15H135.17M22.22 82.7H135.54M22.35 83.25H135.9M22.48 83.81H136.27M22.62 84.36H136.63M22.75 84.92H137M22.89 85.49H137.37M23.02 86.05H137.74M23.16 86.62H138.12M23.3 87.19H138.49M23.43 87.76H138.87M23.57 88.33H139.25M23.71 88.91H139.63M23.85 89.49H140.01M23.99 90.07H140.39M24.13 90.65H140.77M24.27 91.24H141.16M24.41 91.82H141.55M24.55 92.41H141.93M24.7 93.01H142.32M24.84 93.6H142.72M24.98 94.2H143.11M25.13 94.8H143.51M25.27 95.4H143.9M25.42 96.01H144.3M25.56 96.61H144.7M25.71 97.22H145.1M25.86 97.84H145.51M26 98.45H145.91M26.15 99.07H146.32M26.3 99.69H146.73M26.45 100.31H147.14M26.6 100.94H147.55M26.75 101.57H147.96M26.91 102.2H148.38M27.06 102.83H148.8M27.21 103.47H149.22M27.36 104.11H149.64M27.52 104.75H150.06M27.67 105.39H150.48M27.83 106.04H150.91M27.99 106.69H151.34M28.14 107.34H151.77M28.3 108H152.2" stroke="#0000dc" stroke-width=".35" fill="none"/>
<line x1="17.27" y1="62.1" x2="121.97" y2="62.1" stroke="#fff" stroke-width=".7" stroke-opacity="0.25"/>
<line x1="18.47" y1="67.1" x2="125.26" y2="67.1" stroke="#fff" stroke-width=".7" stroke-opacity="0.25"/>
<line x1="19.26" y1="70.4" x2="127.44" y2="70.4" stroke="#fff" stroke-width=".7" stroke-opacity="0.2"/>
<line x1="20.46" y1="75.4" x2="130.73" y2="75.4" stroke="#fff" stroke-width=".7" stroke-opacity="0.25"/>
<line x1="21.26" y1="78.7" x2="132.9" y2="78.7" stroke="#fff" stroke-width=".7" stroke-opacity="0.25"/>
<line x1="22.05" y1="82" x2="135.08" y2="82" stroke="#fff" stroke-width=".7" stroke-opacity="0.35"/>
<line x1="22.77" y1="85" x2="137.05" y2="85" stroke="#fff" stroke-width=".7" stroke-opacity="0.3"/>
<line x1="24.09" y1="90.5" x2="140.67" y2="90.5" stroke="#fff" stroke-width=".7" stroke-opacity="0.35"/>
<line x1="24.89" y1="93.8" x2="142.85" y2="93.8" stroke="#fff" stroke-width=".7" stroke-opacity="0.4"/>
<line x1="25.56" y1="96.6" x2="144.69" y2="96.6" stroke="#fff" stroke-width=".7" stroke-opacity="0.4"/>
<line x1="26.09" y1="98.8" x2="146.14" y2="98.8" stroke="#fff" stroke-width=".7" stroke-opacity="0.3"/>
<line x1="26.76" y1="101.6" x2="147.99" y2="101.6" stroke="#fff" stroke-width=".7" stroke-opacity="0.4"/>
<line x1="27.29" y1="103.8" x2="149.43" y2="103.8" stroke="#fff" stroke-width=".7" stroke-opacity="0.4"/>
<line x1="27.82" y1="106" x2="150.88" y2="106" stroke="#fff" stroke-width=".7" stroke-opacity="0.3"/>
<line x1="16.4" y1="59.2" x2="120.1" y2="59.2" stroke="#2020f0" stroke-width="1" stroke-opacity=".35"/>
<polygon points="21.97,80 22.77,80 25.79,88.0 28.02,96 26.02,96.5" fill="#1a1cf8" opacity=".8"/>
<polygon points="26.09,88 36.5,88 34,95.5 32.7,100 31.8,105.6 29.5,105.5 27.38,100" fill="#d4d4fb" opacity=".55"/>
<polyline points="28,92 29.5,99 31.5,105" fill="none" stroke="#e8e8fe" stroke-width=".9" opacity=".8"/>
<polygon points="28.3,108.2 35.2,108.2 32.8,105.8 30.6,104.6 28.6,105" fill="#f6f6ff"/>
<polygon points="35.2,105.5 36.9,100 38.9,95.5 41.6,92 44.6,89 50.12,75 54.1,58.5 43.7,58.5 33,104" fill="#3034f0" opacity=".18"/>
<polygon points="33.9,105.5 35.6,100 37.6,95.5 40.3,92 43.3,89 48.82,75 52.8,58.5 43.7,58.5 33,104" fill="#2024f0" opacity=".3"/>
<polygon points="55.2,89.6 58.1,86 60.6,82 63.4,79.2 64.2,80.2 62.4,83.8 59.4,87.4 56.6,89.8" fill="#e2e2fd" opacity="0.6"/>
<polygon points="74.2,88.2 77.6,84.6 81.1,82 84.1,80.6 84.6,81.6 81.6,83.8 78.1,86.6 75.4,88.6" fill="#e2e2fd" opacity="0.6"/>
<polyline points="43,101.7 49.3,94.9 53.7,89.2" fill="none" stroke="#1418f0" stroke-width="0.6" stroke-linecap="round" stroke-linejoin="round" opacity="0.45"/>
<polyline points="53.7,89.2 57.1,84.5 60.4,79.4 63.4,78.4 67.1,75.5 71.2,72.7 74.8,67.4" fill="none" stroke="#1418f0" stroke-width="0.75" stroke-linecap="round" stroke-linejoin="round" opacity="0.95"/>
<polyline points="74.8,67.4 79.9,62.6" fill="none" stroke="#1418f0" stroke-width="0.6" stroke-linecap="round" stroke-linejoin="round" opacity="0.5"/>
<polyline points="70.6,90.7 72.5,88.3" fill="none" stroke="#1418f0" stroke-width="0.6" stroke-linecap="round" stroke-linejoin="round" opacity="0.35"/>
<polyline points="72.5,88.3 75.6,85 79.4,81.4 82.4,79.9 87.8,77.9" fill="none" stroke="#1418f0" stroke-width="0.7" stroke-linecap="round" stroke-linejoin="round" opacity="0.85"/>
<polyline points="87.8,77.9 91.6,75.5" fill="none" stroke="#1418f0" stroke-width="0.6" stroke-linecap="round" stroke-linejoin="round" opacity="0.4"/>
<polyline points="93.3,85.3 99.6,81.5" fill="none" stroke="#1418f0" stroke-width="0.6" stroke-linecap="round" stroke-linejoin="round" opacity="0.35"/>
<line x1="95" y1="82.5" x2="118" y2="82.5" stroke="#fff" stroke-width=".8" stroke-opacity=".3"/>
<polygon points="39.7,58.5 39.14,72 38.1,88.5 36,92 33.9,95.5 32.7,100 31.8,105.6 32.6,105.5 34.3,100 36.3,95.5 39,92 42,89 47.52,75 51.5,58.5" fill="#0505f8"/>
<polygon points="39.9,58.6 40.4,42 40.9,33 41.4,35 42,42 42.8,49 43.8,53 44.9,54.2 46.5,52.5 49.7,48.1 50.5,52 51.4,58.6" fill="#0000f6"/>
<line x1="28.3" y1="108.2" x2="152.2" y2="108.2" stroke="#9a9a9a" stroke-width=".6"/>
<line x1="152.6" y1="46.3" x2="152.6" y2="108.3" stroke="#555" stroke-width=".6"/>
<line x1="151.2" y1="108" x2="152.6" y2="108" stroke="#555" stroke-width=".5"/>
<line x1="151.2" y1="99.19" x2="152.6" y2="99.19" stroke="#555" stroke-width=".5"/>
<line x1="151.2" y1="90.37" x2="152.6" y2="90.37" stroke="#555" stroke-width=".5"/>
<line x1="151.2" y1="81.56" x2="152.6" y2="81.56" stroke="#555" stroke-width=".5"/>
<line x1="151.2" y1="72.74" x2="152.6" y2="72.74" stroke="#555" stroke-width=".5"/>
<line x1="151.2" y1="63.93" x2="152.6" y2="63.93" stroke="#555" stroke-width=".5"/>
<line x1="151.2" y1="55.11" x2="152.6" y2="55.11" stroke="#555" stroke-width=".5"/>
<line x1="151.2" y1="46.3" x2="152.6" y2="46.3" stroke="#555" stroke-width=".5"/>
<line x1="28.3" y1="108.0" x2="28.3" y2="106.8" stroke="#666" stroke-width=".5"/>
<line x1="40.69" y1="108.0" x2="40.69" y2="106.8" stroke="#666" stroke-width=".5"/>
<line x1="53.08" y1="108.0" x2="53.08" y2="106.8" stroke="#666" stroke-width=".5"/>
<line x1="65.47" y1="108.0" x2="65.47" y2="106.8" stroke="#666" stroke-width=".5"/>
<line x1="77.86" y1="108.0" x2="77.86" y2="106.8" stroke="#666" stroke-width=".5"/>
<line x1="90.25" y1="108.0" x2="90.25" y2="106.8" stroke="#666" stroke-width=".5"/>
<line x1="102.64" y1="108.0" x2="102.64" y2="106.8" stroke="#666" stroke-width=".5"/>
<line x1="115.03" y1="108.0" x2="115.03" y2="106.8" stroke="#666" stroke-width=".5"/>
<line x1="127.42" y1="108.0" x2="127.42" y2="106.8" stroke="#666" stroke-width=".5"/>
<line x1="139.81" y1="108.0" x2="139.81" y2="106.8" stroke="#666" stroke-width=".5"/>
<line x1="152.2" y1="108.0" x2="152.2" y2="106.8" stroke="#666" stroke-width=".5"/>
<text x="154.8" y="110.85" font-size="6.5">0.000</text>
<text x="154.8" y="102.04" font-size="6.5">0.002</text>
<text x="154.8" y="93.22" font-size="6.5">0.004</text>
<text x="154.8" y="84.41" font-size="6.5">0.006</text>
<text x="154.8" y="75.59" font-size="6.5">0.008</text>
<text x="154.8" y="66.78" font-size="6.5">0.010</text>
<text x="154.8" y="57.96" font-size="6.5">0.012</text>
<text x="154.8" y="49.15" font-size="6.5">0.014</text>
<text x="28.6" y="116.9" font-size="6.3" text-anchor="middle">0</text>
<text x="40.99" y="116.9" font-size="6.3" text-anchor="middle">100</text>
<text x="53.38" y="116.9" font-size="6.3" text-anchor="middle">200</text>
<text x="65.77" y="116.9" font-size="6.3" text-anchor="middle">300</text>
<text x="78.16" y="116.9" font-size="6.3" text-anchor="middle">400</text>
<text x="90.55" y="116.9" font-size="6.3" text-anchor="middle">500</text>
<text x="102.94" y="116.9" font-size="6.3" text-anchor="middle">600</text>
<text x="115.33" y="116.9" font-size="6.3" text-anchor="middle">700</text>
<text x="127.72" y="116.9" font-size="6.3" text-anchor="middle">800</text>
<text x="140.11" y="116.9" font-size="6.3" text-anchor="middle">900</text>
<text x="152.5" y="116.9" font-size="6.3" text-anchor="middle">1000</text>
<text x="26.9" y="110.1" font-size="6.2" text-anchor="end" style="stroke-width:.1px">2</text>
<text x="25.35" y="103.67" font-size="6.2" text-anchor="end" style="stroke-width:.1px">4</text>
<text x="23.87" y="97.5" font-size="6.2" text-anchor="end" style="stroke-width:.1px">6</text>
<text x="22.45" y="91.59" font-size="6.2" text-anchor="end" style="stroke-width:.1px">8</text>
<text x="21.08" y="85.91" font-size="6.2" text-anchor="end" style="stroke-width:.1px">10</text>
<text x="19.77" y="80.45" font-size="6.2" text-anchor="end" style="stroke-width:.1px">12</text>
<text x="18.51" y="75.2" font-size="6.2" text-anchor="end" style="stroke-width:.1px">14</text>
<text x="17.3" y="70.15" font-size="6.2" text-anchor="end" style="stroke-width:.1px">16</text>
<text x="16.13" y="65.29" font-size="6.2" text-anchor="end" style="stroke-width:.1px">18</text>
<text x="15" y="60.6" font-size="6.2" text-anchor="end" style="stroke-width:.1px">20</text>
<text x="90.75" y="124.4" font-size="6.4" text-anchor="middle">Frequency (Hz)</text>
<text transform="translate(179.3,77) rotate(-90)" font-size="6.3" text-anchor="middle">Amplitude (deg)</text>
<text transform="translate(9.15,85.65) rotate(-100.7) scale(.89,1)" y="2.2" font-size="6.3" text-anchor="middle" style="stroke-width:.08px">Speed (km/min)</text>
<text x="3.3" y="9.9" font-size="9" style="stroke-width:.35px">(c)</text>
<rect x="95.3" y="11.1" width="21.7" height="11.1" fill="#111"/>
<rect x="94.2" y="10.1" width="21.7" height="11.1" fill="#fff" stroke="#333" stroke-width=".5"/>
<text x="95.3" y="17.6" font-size="7" style="stroke-width:.05px"><tspan font-style="italic">k</tspan><tspan font-size="4.6" dy="1.9">p</tspan><tspan dy="-1.9">/</tspan><tspan font-style="italic">k</tspan>=4</text>
</g>
<g transform="translate(0,125.86) scale(1,.99)" fill="#252525" stroke-width=".2">
<line x1="21.56" y1="6.3" x2="21.56" y2="58.5" stroke="#f8f8f8" stroke-width=".5"/>
<line x1="31.88" y1="6.3" x2="31.88" y2="58.5" stroke="#f8f8f8" stroke-width=".5"/>
<line x1="42.2" y1="6.3" x2="42.2" y2="58.5" stroke="#f8f8f8" stroke-width=".5"/>
<line x1="52.52" y1="6.3" x2="52.52" y2="58.5" stroke="#f8f8f8" stroke-width=".5"/>
<line x1="62.84" y1="6.3" x2="62.84" y2="58.5" stroke="#f8f8f8" stroke-width=".5"/>
<line x1="73.16" y1="6.3" x2="73.16" y2="58.5" stroke="#f8f8f8" stroke-width=".5"/>
<line x1="83.48" y1="6.3" x2="83.48" y2="58.5" stroke="#f8f8f8" stroke-width=".5"/>
<line x1="93.8" y1="6.3" x2="93.8" y2="58.5" stroke="#f8f8f8" stroke-width=".5"/>
<line x1="104.12" y1="6.3" x2="104.12" y2="58.5" stroke="#f8f8f8" stroke-width=".5"/>
<line x1="114.44" y1="6.3" x2="114.44" y2="58.5" stroke="#f8f8f8" stroke-width=".5"/>
<line x1="26.72" y1="6.3" x2="26.72" y2="58.5" stroke="#efefef" stroke-width=".5"/>
<line x1="37.04" y1="6.3" x2="37.04" y2="58.5" stroke="#efefef" stroke-width=".5"/>
<line x1="47.36" y1="6.3" x2="47.36" y2="58.5" stroke="#efefef" stroke-width=".5"/>
<line x1="57.68" y1="6.3" x2="57.68" y2="58.5" stroke="#efefef" stroke-width=".5"/>
<line x1="68" y1="6.3" x2="68" y2="58.5" stroke="#efefef" stroke-width=".5"/>
<line x1="78.32" y1="6.3" x2="78.32" y2="58.5" stroke="#efefef" stroke-width=".5"/>
<line x1="88.64" y1="6.3" x2="88.64" y2="58.5" stroke="#efefef" stroke-width=".5"/>
<line x1="98.96" y1="6.3" x2="98.96" y2="58.5" stroke="#efefef" stroke-width=".5"/>
<line x1="109.28" y1="6.3" x2="109.28" y2="58.5" stroke="#efefef" stroke-width=".5"/>
<line x1="16.4" y1="51.98" x2="119.6" y2="51.98" stroke="#efefef" stroke-width=".5"/>
<line x1="119.6" y1="51.98" x2="152.2" y2="100.29" stroke="#f2f2f2" stroke-width=".5"/>
<line x1="16.4" y1="45.45" x2="119.6" y2="45.45" stroke="#efefef" stroke-width=".5"/>
<line x1="119.6" y1="45.45" x2="152.2" y2="92.58" stroke="#f2f2f2" stroke-width=".5"/>
<line x1="16.4" y1="38.92" x2="119.6" y2="38.92" stroke="#efefef" stroke-width=".5"/>
<line x1="119.6" y1="38.92" x2="152.2" y2="84.86" stroke="#f2f2f2" stroke-width=".5"/>
<line x1="16.4" y1="32.4" x2="119.6" y2="32.4" stroke="#efefef" stroke-width=".5"/>
<line x1="119.6" y1="32.4" x2="152.2" y2="77.15" stroke="#f2f2f2" stroke-width=".5"/>
<line x1="16.4" y1="25.88" x2="119.6" y2="25.88" stroke="#efefef" stroke-width=".5"/>
<line x1="119.6" y1="25.88" x2="152.2" y2="69.44" stroke="#f2f2f2" stroke-width=".5"/>
<line x1="16.4" y1="19.35" x2="119.6" y2="19.35" stroke="#efefef" stroke-width=".5"/>
<line x1="119.6" y1="19.35" x2="152.2" y2="61.72" stroke="#f2f2f2" stroke-width=".5"/>
<line x1="16.4" y1="12.82" x2="119.6" y2="12.82" stroke="#efefef" stroke-width=".5"/>
<line x1="119.6" y1="12.82" x2="152.2" y2="54.01" stroke="#f2f2f2" stroke-width=".5"/>
<line x1="147.96" y1="101.57" x2="147.96" y2="41.1" stroke="#f0f0f0" stroke-width=".5"/>
<line x1="143.9" y1="95.4" x2="143.9" y2="36.12" stroke="#f0f0f0" stroke-width=".5"/>
<line x1="140.01" y1="89.49" x2="140.01" y2="31.34" stroke="#f0f0f0" stroke-width=".5"/>
<line x1="136.27" y1="83.81" x2="136.27" y2="26.75" stroke="#f0f0f0" stroke-width=".5"/>
<line x1="132.67" y1="78.35" x2="132.67" y2="22.34" stroke="#f0f0f0" stroke-width=".5"/>
<line x1="129.22" y1="73.1" x2="129.22" y2="18.1" stroke="#f0f0f0" stroke-width=".5"/>
<line x1="125.89" y1="68.05" x2="125.89" y2="14.02" stroke="#f0f0f0" stroke-width=".5"/>
<line x1="122.69" y1="63.19" x2="122.69" y2="10.09" stroke="#f0f0f0" stroke-width=".5"/>
<polyline points="16.4,58.5 16.4,6.3 119.6,6.3 152.2,46.3" fill="none" stroke="#c8c8c8" stroke-width=".7"/>
<line x1="119.6" y1="6.3" x2="119.6" y2="58.5" stroke="#e0e0e0" stroke-width=".5"/>
<polygon points="16.4,58.5 119.6,58.5 152.2,108.0 28.3,108.0" fill="#fff"/>
<path d="M16.4 58.5H119.6M16.51 58.96H119.9M16.62 59.42H120.21M16.73 59.89H120.51M16.85 60.35H120.82M16.96 60.82H121.13M17.07 61.29H121.44M17.18 61.76H121.75M17.3 62.24H122.06M17.41 62.71H122.37M17.53 63.19H122.69M17.64 63.67H123M17.76 64.15H123.32M17.87 64.63H123.64M17.99 65.11H123.95M18.11 65.6H124.27M18.22 66.08H124.59M18.34 66.57H124.92M18.46 67.06H125.24M18.58 67.56H125.56M18.7 68.05H125.89M18.82 68.55H126.22M18.94 69.05H126.55M19.06 69.55H126.88M19.18 70.05H127.21M19.3 70.55H127.54M19.42 71.06H127.87M19.54 71.57H128.21M19.66 72.08H128.54M19.79 72.59H128.88M19.91 73.1H129.22M20.03 73.62H129.56M20.16 74.14H129.9M20.28 74.65H130.24M20.41 75.18H130.58M20.54 75.7H130.93M20.66 76.23H131.27M20.79 76.75H131.62M20.92 77.28H131.97M21.04 77.82H132.32M21.17 78.35H132.67M21.3 78.89H133.03M21.43 79.42H133.38M21.56 79.96H133.74M21.69 80.51H134.09M21.82 81.05H134.45M21.95 81.6H134.81M22.08 82.15H135.17M22.22 82.7H135.54M22.35 83.25H135.9M22.48 83.81H136.27M22.62 84.36H136.63M22.75 84.92H137M22.89 85.49H137.37M23.02 86.05H137.74M23.16 86.62H138.12M23.3 87.19H138.49M23.43 87.76H138.87M23.57 88.33H139.25M23.71 88.91H139.63M23.85 89.49H140.01M23.99 90.07H140.39M24.13 90.65H140.77M24.27 91.24H141.16M24.41 91.82H141.55M24.55 92.41H141.93M24.7 93.01H142.32M24.84 93.6H142.72M24.98 94.2H143.11M25.13 94.8H143.51M25.27 95.4H143.9M25.42 96.01H144.3M25.56 96.61H144.7M25.71 97.22H145.1M25.86 97.84H145.51M26 98.45H145.91M26.15 99.07H146.32M26.3 99.69H146.73M26.45 100.31H147.14M26.6 100.94H147.55M26.75 101.57H147.96M26.91 102.2H148.38M27.06 102.83H148.8M27.21 103.47H149.22M27.36 104.11H149.64M27.52 104.75H150.06M27.67 105.39H150.48M27.83 106.04H150.91M27.99 106.69H151.34M28.14 107.34H151.77M28.3 108H152.2" stroke="#0000dc" stroke-width=".35" fill="none"/>
<line x1="17.27" y1="62.1" x2="121.97" y2="62.1" stroke="#fff" stroke-width=".7" stroke-opacity="0.25"/>
<line x1="18.47" y1="67.1" x2="125.26" y2="67.1" stroke="#fff" stroke-width=".7" stroke-opacity="0.25"/>
<line x1="19.26" y1="70.4" x2="127.44" y2="70.4" stroke="#fff" stroke-width=".7" stroke-opacity="0.2"/>
<line x1="20.46" y1="75.4" x2="130.73" y2="75.4" stroke="#fff" stroke-width=".7" stroke-opacity="0.25"/>
<line x1="21.26" y1="78.7" x2="132.9" y2="78.7" stroke="#fff" stroke-width=".7" stroke-opacity="0.25"/>
<line x1="22.05" y1="82" x2="135.08" y2="82" stroke="#fff" stroke-width=".7" stroke-opacity="0.35"/>
<line x1="22.77" y1="85" x2="137.05" y2="85" stroke="#fff" stroke-width=".7" stroke-opacity="0.3"/>
<line x1="24.09" y1="90.5" x2="140.67" y2="90.5" stroke="#fff" stroke-width=".7" stroke-opacity="0.35"/>
<line x1="24.89" y1="93.8" x2="142.85" y2="93.8" stroke="#fff" stroke-width=".7" stroke-opacity="0.4"/>
<line x1="25.56" y1="96.6" x2="144.69" y2="96.6" stroke="#fff" stroke-width=".7" stroke-opacity="0.4"/>
<line x1="26.09" y1="98.8" x2="146.14" y2="98.8" stroke="#fff" stroke-width=".7" stroke-opacity="0.3"/>
<line x1="26.76" y1="101.6" x2="147.99" y2="101.6" stroke="#fff" stroke-width=".7" stroke-opacity="0.4"/>
<line x1="27.29" y1="103.8" x2="149.43" y2="103.8" stroke="#fff" stroke-width=".7" stroke-opacity="0.4"/>
<line x1="27.82" y1="106" x2="150.88" y2="106" stroke="#fff" stroke-width=".7" stroke-opacity="0.3"/>
<line x1="16.4" y1="59.2" x2="120.1" y2="59.2" stroke="#2020f0" stroke-width="1" stroke-opacity=".35"/>
<polygon points="22.21,81 23.01,81 26.15,89.5 28.5,98 26.5,98.5" fill="#1a1cf8" opacity=".8"/>
<polygon points="26.09,88 36.5,88 34,95.5 32.7,100 31.8,105.6 29.5,105.5 27.38,100" fill="#d4d4fb" opacity=".55"/>
<polyline points="28,92 29.5,99 31.5,105" fill="none" stroke="#e8e8fe" stroke-width=".9" opacity=".8"/>
<polygon points="28.3,108.2 35.2,108.2 32.8,105.8 30.6,104.6 28.6,105" fill="#f6f6ff"/>
<polygon points="35.2,105.5 36.9,100 38.9,95.5 41.6,92 44.6,89 50.4,75 54.6,58.5 43.6,58.5 33,104" fill="#3034f0" opacity=".18"/>
<polygon points="33.9,105.5 35.6,100 37.6,95.5 40.3,92 43.3,89 49.1,75 53.3,58.5 43.6,58.5 33,104" fill="#2024f0" opacity=".3"/>
<polygon points="56.8,84.5 61.8,78.6 62.6,79.4 58,84.8" fill="#e2e2fd" opacity="0.35"/>
<polygon points="72,89.5 82,84 82.5,85 73,90.2" fill="#e2e2fd" opacity="0.35"/>
<polyline points="44.5,98.5 46.8,94.9" fill="none" stroke="#1418f0" stroke-width="0.6" stroke-linecap="round" stroke-linejoin="round" opacity="0.45"/>
<polyline points="46.8,94.9 56.2,84 62,77.5 80.8,60 82.5,58.8" fill="none" stroke="#1418f0" stroke-width="0.7" stroke-linecap="round" stroke-linejoin="round" opacity="0.95"/>
<polyline points="63.8,92.3 70,88.5" fill="none" stroke="#1418f0" stroke-width="0.6" stroke-linecap="round" stroke-linejoin="round" opacity="0.4"/>
<polyline points="70,88.5 89.3,77.9" fill="none" stroke="#1418f0" stroke-width="0.65" stroke-linecap="round" stroke-linejoin="round" opacity="0.8"/>
<polyline points="89.3,77.9 96.7,74.2" fill="none" stroke="#1418f0" stroke-width="0.6" stroke-linecap="round" stroke-linejoin="round" opacity="0.4"/>
<polygon points="39.6,58.5 39.08,72 38.1,88.5 36,92 33.9,95.5 32.7,100 31.8,105.6 32.6,105.5 34.3,100 36.3,95.5 39,92 42,89 47.8,75 52,58.5" fill="#0505f8"/>
<polygon points="40,58.6 40.5,42 41.1,34.8 41.6,37 42.3,43 43.3,48.5 44.3,51 45.5,51.6 47.3,49.5 50.7,44.8 51.2,50 51.8,58.6" fill="#0000f6"/>
<line x1="28.3" y1="108.2" x2="152.2" y2="108.2" stroke="#9a9a9a" stroke-width=".6"/>
<line x1="152.6" y1="46.3" x2="152.6" y2="108.3" stroke="#555" stroke-width=".6"/>
<line x1="151.2" y1="108" x2="152.6" y2="108" stroke="#555" stroke-width=".5"/>
<line x1="151.2" y1="100.29" x2="152.6" y2="100.29" stroke="#555" stroke-width=".5"/>
<line x1="151.2" y1="92.58" x2="152.6" y2="92.58" stroke="#555" stroke-width=".5"/>
<line x1="151.2" y1="84.86" x2="152.6" y2="84.86" stroke="#555" stroke-width=".5"/>
<line x1="151.2" y1="77.15" x2="152.6" y2="77.15" stroke="#555" stroke-width=".5"/>
<line x1="151.2" y1="69.44" x2="152.6" y2="69.44" stroke="#555" stroke-width=".5"/>
<line x1="151.2" y1="61.72" x2="152.6" y2="61.72" stroke="#555" stroke-width=".5"/>
<line x1="151.2" y1="54.01" x2="152.6" y2="54.01" stroke="#555" stroke-width=".5"/>
<line x1="151.2" y1="46.3" x2="152.6" y2="46.3" stroke="#555" stroke-width=".5"/>
<line x1="28.3" y1="108.0" x2="28.3" y2="106.8" stroke="#666" stroke-width=".5"/>
<line x1="40.69" y1="108.0" x2="40.69" y2="106.8" stroke="#666" stroke-width=".5"/>
<line x1="53.08" y1="108.0" x2="53.08" y2="106.8" stroke="#666" stroke-width=".5"/>
<line x1="65.47" y1="108.0" x2="65.47" y2="106.8" stroke="#666" stroke-width=".5"/>
<line x1="77.86" y1="108.0" x2="77.86" y2="106.8" stroke="#666" stroke-width=".5"/>
<line x1="90.25" y1="108.0" x2="90.25" y2="106.8" stroke="#666" stroke-width=".5"/>
<line x1="102.64" y1="108.0" x2="102.64" y2="106.8" stroke="#666" stroke-width=".5"/>
<line x1="115.03" y1="108.0" x2="115.03" y2="106.8" stroke="#666" stroke-width=".5"/>
<line x1="127.42" y1="108.0" x2="127.42" y2="106.8" stroke="#666" stroke-width=".5"/>
<line x1="139.81" y1="108.0" x2="139.81" y2="106.8" stroke="#666" stroke-width=".5"/>
<line x1="152.2" y1="108.0" x2="152.2" y2="106.8" stroke="#666" stroke-width=".5"/>
<text x="154.8" y="110.85" font-size="6.5">0.000</text>
<text x="154.8" y="103.14" font-size="6.5">0.002</text>
<text x="154.8" y="95.42" font-size="6.5">0.004</text>
<text x="154.8" y="87.71" font-size="6.5">0.006</text>
<text x="154.8" y="80" font-size="6.5">0.008</text>
<text x="154.8" y="72.29" font-size="6.5">0.010</text>
<text x="154.8" y="64.57" font-size="6.5">0.012</text>
<text x="154.8" y="56.86" font-size="6.5">0.014</text>
<text x="154.8" y="49.15" font-size="6.5">0.016</text>
<text x="28.6" y="116.9" font-size="6.3" text-anchor="middle">0</text>
<text x="40.99" y="116.9" font-size="6.3" text-anchor="middle">100</text>
<text x="53.38" y="116.9" font-size="6.3" text-anchor="middle">200</text>
<text x="65.77" y="116.9" font-size="6.3" text-anchor="middle">300</text>
<text x="78.16" y="116.9" font-size="6.3" text-anchor="middle">400</text>
<text x="90.55" y="116.9" font-size="6.3" text-anchor="middle">500</text>
<text x="102.94" y="116.9" font-size="6.3" text-anchor="middle">600</text>
<text x="115.33" y="116.9" font-size="6.3" text-anchor="middle">700</text>
<text x="127.72" y="116.9" font-size="6.3" text-anchor="middle">800</text>
<text x="140.11" y="116.9" font-size="6.3" text-anchor="middle">900</text>
<text x="152.5" y="116.9" font-size="6.3" text-anchor="middle">1000</text>
<text x="26.9" y="110.1" font-size="6.2" text-anchor="end" style="stroke-width:.1px">2</text>
<text x="25.35" y="103.67" font-size="6.2" text-anchor="end" style="stroke-width:.1px">4</text>
<text x="23.87" y="97.5" font-size="6.2" text-anchor="end" style="stroke-width:.1px">6</text>
<text x="22.45" y="91.59" font-size="6.2" text-anchor="end" style="stroke-width:.1px">8</text>
<text x="21.08" y="85.91" font-size="6.2" text-anchor="end" style="stroke-width:.1px">10</text>
<text x="19.77" y="80.45" font-size="6.2" text-anchor="end" style="stroke-width:.1px">12</text>
<text x="18.51" y="75.2" font-size="6.2" text-anchor="end" style="stroke-width:.1px">14</text>
<text x="17.3" y="70.15" font-size="6.2" text-anchor="end" style="stroke-width:.1px">16</text>
<text x="16.13" y="65.29" font-size="6.2" text-anchor="end" style="stroke-width:.1px">18</text>
<text x="15" y="60.6" font-size="6.2" text-anchor="end" style="stroke-width:.1px">20</text>
<text x="90.75" y="124.4" font-size="6.4" text-anchor="middle">Frequency (Hz)</text>
<text transform="translate(179.3,77) rotate(-90)" font-size="6.3" text-anchor="middle">Amplitude (deg)</text>
<text transform="translate(9.15,85.65) rotate(-100.7) scale(.89,1)" y="2.2" font-size="6.3" text-anchor="middle" style="stroke-width:.08px">Speed (km/min)</text>
<text x="2.5" y="9.9" font-size="9" style="stroke-width:.35px">(d)</text>
<rect x="95.3" y="11.1" width="21.7" height="11.1" fill="#111"/>
<rect x="94.2" y="10.1" width="21.7" height="11.1" fill="#fff" stroke="#333" stroke-width=".5"/>
<text x="95.3" y="17.6" font-size="7" style="stroke-width:.05px"><tspan font-style="italic">k</tspan><tspan font-size="4.6" dy="1.9">p</tspan><tspan dy="-1.9">/</tspan><tspan font-style="italic">k</tspan>=2</text>
</g>
<g transform="translate(183,125.86) scale(1,.99)" fill="#252525" stroke-width=".2">
<line x1="21.56" y1="6.3" x2="21.56" y2="58.5" stroke="#f8f8f8" stroke-width=".5"/>
<line x1="31.88" y1="6.3" x2="31.88" y2="58.5" stroke="#f8f8f8" stroke-width=".5"/>
<line x1="42.2" y1="6.3" x2="42.2" y2="58.5" stroke="#f8f8f8" stroke-width=".5"/>
<line x1="52.52" y1="6.3" x2="52.52" y2="58.5" stroke="#f8f8f8" stroke-width=".5"/>
<line x1="62.84" y1="6.3" x2="62.84" y2="58.5" stroke="#f8f8f8" stroke-width=".5"/>
<line x1="73.16" y1="6.3" x2="73.16" y2="58.5" stroke="#f8f8f8" stroke-width=".5"/>
<line x1="83.48" y1="6.3" x2="83.48" y2="58.5" stroke="#f8f8f8" stroke-width=".5"/>
<line x1="93.8" y1="6.3" x2="93.8" y2="58.5" stroke="#f8f8f8" stroke-width=".5"/>
<line x1="104.12" y1="6.3" x2="104.12" y2="58.5" stroke="#f8f8f8" stroke-width=".5"/>
<line x1="114.44" y1="6.3" x2="114.44" y2="58.5" stroke="#f8f8f8" stroke-width=".5"/>
<line x1="26.72" y1="6.3" x2="26.72" y2="58.5" stroke="#efefef" stroke-width=".5"/>
<line x1="37.04" y1="6.3" x2="37.04" y2="58.5" stroke="#efefef" stroke-width=".5"/>
<line x1="47.36" y1="6.3" x2="47.36" y2="58.5" stroke="#efefef" stroke-width=".5"/>
<line x1="57.68" y1="6.3" x2="57.68" y2="58.5" stroke="#efefef" stroke-width=".5"/>
<line x1="68" y1="6.3" x2="68" y2="58.5" stroke="#efefef" stroke-width=".5"/>
<line x1="78.32" y1="6.3" x2="78.32" y2="58.5" stroke="#efefef" stroke-width=".5"/>
<line x1="88.64" y1="6.3" x2="88.64" y2="58.5" stroke="#efefef" stroke-width=".5"/>
<line x1="98.96" y1="6.3" x2="98.96" y2="58.5" stroke="#efefef" stroke-width=".5"/>
<line x1="109.28" y1="6.3" x2="109.28" y2="58.5" stroke="#efefef" stroke-width=".5"/>
<line x1="16.4" y1="51.98" x2="119.6" y2="51.98" stroke="#efefef" stroke-width=".5"/>
<line x1="119.6" y1="51.98" x2="152.2" y2="100.29" stroke="#f2f2f2" stroke-width=".5"/>
<line x1="16.4" y1="45.45" x2="119.6" y2="45.45" stroke="#efefef" stroke-width=".5"/>
<line x1="119.6" y1="45.45" x2="152.2" y2="92.58" stroke="#f2f2f2" stroke-width=".5"/>
<line x1="16.4" y1="38.92" x2="119.6" y2="38.92" stroke="#efefef" stroke-width=".5"/>
<line x1="119.6" y1="38.92" x2="152.2" y2="84.86" stroke="#f2f2f2" stroke-width=".5"/>
<line x1="16.4" y1="32.4" x2="119.6" y2="32.4" stroke="#efefef" stroke-width=".5"/>
<line x1="119.6" y1="32.4" x2="152.2" y2="77.15" stroke="#f2f2f2" stroke-width=".5"/>
<line x1="16.4" y1="25.88" x2="119.6" y2="25.88" stroke="#efefef" stroke-width=".5"/>
<line x1="119.6" y1="25.88" x2="152.2" y2="69.44" stroke="#f2f2f2" stroke-width=".5"/>
<line x1="16.4" y1="19.35" x2="119.6" y2="19.35" stroke="#efefef" stroke-width=".5"/>
<line x1="119.6" y1="19.35" x2="152.2" y2="61.72" stroke="#f2f2f2" stroke-width=".5"/>
<line x1="16.4" y1="12.82" x2="119.6" y2="12.82" stroke="#efefef" stroke-width=".5"/>
<line x1="119.6" y1="12.82" x2="152.2" y2="54.01" stroke="#f2f2f2" stroke-width=".5"/>
<line x1="147.96" y1="101.57" x2="147.96" y2="41.1" stroke="#f0f0f0" stroke-width=".5"/>
<line x1="143.9" y1="95.4" x2="143.9" y2="36.12" stroke="#f0f0f0" stroke-width=".5"/>
<line x1="140.01" y1="89.49" x2="140.01" y2="31.34" stroke="#f0f0f0" stroke-width=".5"/>
<line x1="136.27" y1="83.81" x2="136.27" y2="26.75" stroke="#f0f0f0" stroke-width=".5"/>
<line x1="132.67" y1="78.35" x2="132.67" y2="22.34" stroke="#f0f0f0" stroke-width=".5"/>
<line x1="129.22" y1="73.1" x2="129.22" y2="18.1" stroke="#f0f0f0" stroke-width=".5"/>
<line x1="125.89" y1="68.05" x2="125.89" y2="14.02" stroke="#f0f0f0" stroke-width=".5"/>
<line x1="122.69" y1="63.19" x2="122.69" y2="10.09" stroke="#f0f0f0" stroke-width=".5"/>
<polyline points="16.4,58.5 16.4,6.3 119.6,6.3 152.2,46.3" fill="none" stroke="#c8c8c8" stroke-width=".7"/>
<line x1="119.6" y1="6.3" x2="119.6" y2="58.5" stroke="#e0e0e0" stroke-width=".5"/>
<polygon points="16.4,58.5 119.6,58.5 152.2,108.0 28.3,108.0" fill="#fff"/>
<path d="M16.4 58.5H119.6M16.51 58.96H119.9M16.62 59.42H120.21M16.73 59.89H120.51M16.85 60.35H120.82M16.96 60.82H121.13M17.07 61.29H121.44M17.18 61.76H121.75M17.3 62.24H122.06M17.41 62.71H122.37M17.53 63.19H122.69M17.64 63.67H123M17.76 64.15H123.32M17.87 64.63H123.64M17.99 65.11H123.95M18.11 65.6H124.27M18.22 66.08H124.59M18.34 66.57H124.92M18.46 67.06H125.24M18.58 67.56H125.56M18.7 68.05H125.89M18.82 68.55H126.22M18.94 69.05H126.55M19.06 69.55H126.88M19.18 70.05H127.21M19.3 70.55H127.54M19.42 71.06H127.87M19.54 71.57H128.21M19.66 72.08H128.54M19.79 72.59H128.88M19.91 73.1H129.22M20.03 73.62H129.56M20.16 74.14H129.9M20.28 74.65H130.24M20.41 75.18H130.58M20.54 75.7H130.93M20.66 76.23H131.27M20.79 76.75H131.62M20.92 77.28H131.97M21.04 77.82H132.32M21.17 78.35H132.67M21.3 78.89H133.03M21.43 79.42H133.38M21.56 79.96H133.74M21.69 80.51H134.09M21.82 81.05H134.45M21.95 81.6H134.81M22.08 82.15H135.17M22.22 82.7H135.54M22.35 83.25H135.9M22.48 83.81H136.27M22.62 84.36H136.63M22.75 84.92H137M22.89 85.49H137.37M23.02 86.05H137.74M23.16 86.62H138.12M23.3 87.19H138.49M23.43 87.76H138.87M23.57 88.33H139.25M23.71 88.91H139.63M23.85 89.49H140.01M23.99 90.07H140.39M24.13 90.65H140.77M24.27 91.24H141.16M24.41 91.82H141.55M24.55 92.41H141.93M24.7 93.01H142.32M24.84 93.6H142.72M24.98 94.2H143.11M25.13 94.8H143.51M25.27 95.4H143.9M25.42 96.01H144.3M25.56 96.61H144.7M25.71 97.22H145.1M25.86 97.84H145.51M26 98.45H145.91M26.15 99.07H146.32M26.3 99.69H146.73M26.45 100.31H147.14M26.6 100.94H147.55M26.75 101.57H147.96M26.91 102.2H148.38M27.06 102.83H148.8M27.21 103.47H149.22M27.36 104.11H149.64M27.52 104.75H150.06M27.67 105.39H150.48M27.83 106.04H150.91M27.99 106.69H151.34M28.14 107.34H151.77M28.3 108H152.2" stroke="#0000dc" stroke-width=".35" fill="none"/>
<line x1="17.27" y1="62.1" x2="121.97" y2="62.1" stroke="#fff" stroke-width=".7" stroke-opacity="0.25"/>
<line x1="18.47" y1="67.1" x2="125.26" y2="67.1" stroke="#fff" stroke-width=".7" stroke-opacity="0.25"/>
<line x1="19.26" y1="70.4" x2="127.44" y2="70.4" stroke="#fff" stroke-width=".7" stroke-opacity="0.2"/>
<line x1="20.46" y1="75.4" x2="130.73" y2="75.4" stroke="#fff" stroke-width=".7" stroke-opacity="0.25"/>
<line x1="21.26" y1="78.7" x2="132.9" y2="78.7" stroke="#fff" stroke-width=".7" stroke-opacity="0.25"/>
<line x1="22.05" y1="82" x2="135.08" y2="82" stroke="#fff" stroke-width=".7" stroke-opacity="0.35"/>
<line x1="22.77" y1="85" x2="137.05" y2="85" stroke="#fff" stroke-width=".7" stroke-opacity="0.3"/>
<line x1="24.09" y1="90.5" x2="140.67" y2="90.5" stroke="#fff" stroke-width=".7" stroke-opacity="0.35"/>
<line x1="24.89" y1="93.8" x2="142.85" y2="93.8" stroke="#fff" stroke-width=".7" stroke-opacity="0.4"/>
<line x1="25.56" y1="96.6" x2="144.69" y2="96.6" stroke="#fff" stroke-width=".7" stroke-opacity="0.4"/>
<line x1="26.09" y1="98.8" x2="146.14" y2="98.8" stroke="#fff" stroke-width=".7" stroke-opacity="0.3"/>
<line x1="26.76" y1="101.6" x2="147.99" y2="101.6" stroke="#fff" stroke-width=".7" stroke-opacity="0.4"/>
<line x1="27.29" y1="103.8" x2="149.43" y2="103.8" stroke="#fff" stroke-width=".7" stroke-opacity="0.4"/>
<line x1="27.82" y1="106" x2="150.88" y2="106" stroke="#fff" stroke-width=".7" stroke-opacity="0.3"/>
<line x1="16.4" y1="59.2" x2="120.1" y2="59.2" stroke="#2020f0" stroke-width="1" stroke-opacity=".35"/>
<polygon points="23.41,86 24.21,86 26.63,91.5 28.26,97 26.26,97.5" fill="#1a1cf8" opacity=".8"/>
<polygon points="26.09,88 36.5,88 34,95.5 32.7,100 31.8,105.6 29.5,105.5 27.38,100" fill="#d4d4fb" opacity=".55"/>
<polyline points="28,92 29.5,99 31.5,105" fill="none" stroke="#e8e8fe" stroke-width=".9" opacity=".8"/>
<polygon points="28.3,108.2 35.2,108.2 32.8,105.8 30.6,104.6 28.6,105" fill="#f6f6ff"/>
<polygon points="35.2,105.5 36.9,100 38.9,95.5 41.6,92 44.6,89 50.62,75 55,58.5 41.9,58.5 33,104" fill="#3034f0" opacity=".18"/>
<polygon points="33.9,105.5 35.6,100 37.6,95.5 40.3,92 43.3,89 49.32,75 53.7,58.5 41.9,58.5 33,104" fill="#2024f0" opacity=".3"/>
<polygon points="56,87.5 62,81 62.8,82 57,88.5" fill="#e2e2fd" opacity="0.35"/>
<polygon points="68,91.5 84,81.5 84.5,82.5 69,92.2" fill="#e2e2fd" opacity="0.35"/>
<polyline points="45.3,98.4 49,94.2" fill="none" stroke="#1418f0" stroke-width="0.6" stroke-linecap="round" stroke-linejoin="round" opacity="0.5"/>
<polyline points="49,94.2 55.3,86.6 84.4,58.4" fill="none" stroke="#1418f0" stroke-width="0.75" stroke-linecap="round" stroke-linejoin="round" opacity="0.95"/>
<polyline points="64.4,92.1 96.2,72.1" fill="none" stroke="#1418f0" stroke-width="0.6" stroke-linecap="round" stroke-linejoin="round" opacity="0.6"/>
<polyline points="87.2,87.5 98.1,83.9" fill="none" stroke="#1418f0" stroke-width="0.6" stroke-linecap="round" stroke-linejoin="round" opacity="0.3"/>
<polygon points="37.9,58.5 37.97,72 38.1,88.5 36,92 33.9,95.5 32.7,100 31.8,105.6 32.6,105.5 34.3,100 36.3,95.5 39,92 42,89 48.02,75 52.4,58.5" fill="#0505f8"/>
<polygon points="39,58.6 39.6,38 40.2,29.7 40.8,32 41.7,37 43,41.5 44.9,44.3 46.8,42 50,37.5 50.7,42 51.5,50 52.2,58.6" fill="#0000f6"/>
<line x1="28.3" y1="108.2" x2="152.2" y2="108.2" stroke="#9a9a9a" stroke-width=".6"/>
<line x1="152.6" y1="46.3" x2="152.6" y2="108.3" stroke="#555" stroke-width=".6"/>
<line x1="151.2" y1="108" x2="152.6" y2="108" stroke="#555" stroke-width=".5"/>
<line x1="151.2" y1="100.29" x2="152.6" y2="100.29" stroke="#555" stroke-width=".5"/>
<line x1="151.2" y1="92.58" x2="152.6" y2="92.58" stroke="#555" stroke-width=".5"/>
<line x1="151.2" y1="84.86" x2="152.6" y2="84.86" stroke="#555" stroke-width=".5"/>
<line x1="151.2" y1="77.15" x2="152.6" y2="77.15" stroke="#555" stroke-width=".5"/>
<line x1="151.2" y1="69.44" x2="152.6" y2="69.44" stroke="#555" stroke-width=".5"/>
<line x1="151.2" y1="61.72" x2="152.6" y2="61.72" stroke="#555" stroke-width=".5"/>
<line x1="151.2" y1="54.01" x2="152.6" y2="54.01" stroke="#555" stroke-width=".5"/>
<line x1="151.2" y1="46.3" x2="152.6" y2="46.3" stroke="#555" stroke-width=".5"/>
<line x1="28.3" y1="108.0" x2="28.3" y2="106.8" stroke="#666" stroke-width=".5"/>
<line x1="40.69" y1="108.0" x2="40.69" y2="106.8" stroke="#666" stroke-width=".5"/>
<line x1="53.08" y1="108.0" x2="53.08" y2="106.8" stroke="#666" stroke-width=".5"/>
<line x1="65.47" y1="108.0" x2="65.47" y2="106.8" stroke="#666" stroke-width=".5"/>
<line x1="77.86" y1="108.0" x2="77.86" y2="106.8" stroke="#666" stroke-width=".5"/>
<line x1="90.25" y1="108.0" x2="90.25" y2="106.8" stroke="#666" stroke-width=".5"/>
<line x1="102.64" y1="108.0" x2="102.64" y2="106.8" stroke="#666" stroke-width=".5"/>
<line x1="115.03" y1="108.0" x2="115.03" y2="106.8" stroke="#666" stroke-width=".5"/>
<line x1="127.42" y1="108.0" x2="127.42" y2="106.8" stroke="#666" stroke-width=".5"/>
<line x1="139.81" y1="108.0" x2="139.81" y2="106.8" stroke="#666" stroke-width=".5"/>
<line x1="152.2" y1="108.0" x2="152.2" y2="106.8" stroke="#666" stroke-width=".5"/>
<text x="154.8" y="110.85" font-size="6.5">0.000</text>
<text x="154.8" y="103.14" font-size="6.5">0.002</text>
<text x="154.8" y="95.42" font-size="6.5">0.004</text>
<text x="154.8" y="87.71" font-size="6.5">0.006</text>
<text x="154.8" y="80" font-size="6.5">0.008</text>
<text x="154.8" y="72.29" font-size="6.5">0.010</text>
<text x="154.8" y="64.57" font-size="6.5">0.012</text>
<text x="154.8" y="56.86" font-size="6.5">0.014</text>
<text x="154.8" y="49.15" font-size="6.5">0.016</text>
<text x="28.6" y="116.9" font-size="6.3" text-anchor="middle">0</text>
<text x="40.99" y="116.9" font-size="6.3" text-anchor="middle">100</text>
<text x="53.38" y="116.9" font-size="6.3" text-anchor="middle">200</text>
<text x="65.77" y="116.9" font-size="6.3" text-anchor="middle">300</text>
<text x="78.16" y="116.9" font-size="6.3" text-anchor="middle">400</text>
<text x="90.55" y="116.9" font-size="6.3" text-anchor="middle">500</text>
<text x="102.94" y="116.9" font-size="6.3" text-anchor="middle">600</text>
<text x="115.33" y="116.9" font-size="6.3" text-anchor="middle">700</text>
<text x="127.72" y="116.9" font-size="6.3" text-anchor="middle">800</text>
<text x="140.11" y="116.9" font-size="6.3" text-anchor="middle">900</text>
<text x="152.5" y="116.9" font-size="6.3" text-anchor="middle">1000</text>
<text x="26.9" y="110.1" font-size="6.2" text-anchor="end" style="stroke-width:.1px">2</text>
<text x="25.35" y="103.67" font-size="6.2" text-anchor="end" style="stroke-width:.1px">4</text>
<text x="23.87" y="97.5" font-size="6.2" text-anchor="end" style="stroke-width:.1px">6</text>
<text x="22.45" y="91.59" font-size="6.2" text-anchor="end" style="stroke-width:.1px">8</text>
<text x="21.08" y="85.91" font-size="6.2" text-anchor="end" style="stroke-width:.1px">10</text>
<text x="19.77" y="80.45" font-size="6.2" text-anchor="end" style="stroke-width:.1px">12</text>
<text x="18.51" y="75.2" font-size="6.2" text-anchor="end" style="stroke-width:.1px">14</text>
<text x="17.3" y="70.15" font-size="6.2" text-anchor="end" style="stroke-width:.1px">16</text>
<text x="16.13" y="65.29" font-size="6.2" text-anchor="end" style="stroke-width:.1px">18</text>
<text x="15" y="60.6" font-size="6.2" text-anchor="end" style="stroke-width:.1px">20</text>
<text x="90.75" y="124.4" font-size="6.4" text-anchor="middle">Frequency (Hz)</text>
<text transform="translate(179.3,77) rotate(-90)" font-size="6.3" text-anchor="middle">Amplitude (deg)</text>
<text transform="translate(9.15,85.65) rotate(-100.7) scale(.89,1)" y="2.2" font-size="6.3" text-anchor="middle" style="stroke-width:.08px">Speed (km/min)</text>
<text x="3.2" y="9.9" font-size="9" style="stroke-width:.35px">(e)</text>
<rect x="95.3" y="11.1" width="21.7" height="11.1" fill="#111"/>
<rect x="94.2" y="10.1" width="21.7" height="11.1" fill="#fff" stroke="#333" stroke-width=".5"/>
<text x="95.3" y="17.6" font-size="7" style="stroke-width:.05px"><tspan font-style="italic">k</tspan><tspan font-size="4.6" dy="1.9">p</tspan><tspan dy="-1.9">/</tspan><tspan font-style="italic">k</tspan>=1</text>
</g>
<g transform="translate(366,125.86) scale(1,.99)" fill="#252525" stroke-width=".2">
<line x1="21.56" y1="6.3" x2="21.56" y2="58.5" stroke="#f8f8f8" stroke-width=".5"/>
<line x1="31.88" y1="6.3" x2="31.88" y2="58.5" stroke="#f8f8f8" stroke-width=".5"/>
<line x1="42.2" y1="6.3" x2="42.2" y2="58.5" stroke="#f8f8f8" stroke-width=".5"/>
<line x1="52.52" y1="6.3" x2="52.52" y2="58.5" stroke="#f8f8f8" stroke-width=".5"/>
<line x1="62.84" y1="6.3" x2="62.84" y2="58.5" stroke="#f8f8f8" stroke-width=".5"/>
<line x1="73.16" y1="6.3" x2="73.16" y2="58.5" stroke="#f8f8f8" stroke-width=".5"/>
<line x1="83.48" y1="6.3" x2="83.48" y2="58.5" stroke="#f8f8f8" stroke-width=".5"/>
<line x1="93.8" y1="6.3" x2="93.8" y2="58.5" stroke="#f8f8f8" stroke-width=".5"/>
<line x1="104.12" y1="6.3" x2="104.12" y2="58.5" stroke="#f8f8f8" stroke-width=".5"/>
<line x1="114.44" y1="6.3" x2="114.44" y2="58.5" stroke="#f8f8f8" stroke-width=".5"/>
<line x1="26.72" y1="6.3" x2="26.72" y2="58.5" stroke="#efefef" stroke-width=".5"/>
<line x1="37.04" y1="6.3" x2="37.04" y2="58.5" stroke="#efefef" stroke-width=".5"/>
<line x1="47.36" y1="6.3" x2="47.36" y2="58.5" stroke="#efefef" stroke-width=".5"/>
<line x1="57.68" y1="6.3" x2="57.68" y2="58.5" stroke="#efefef" stroke-width=".5"/>
<line x1="68" y1="6.3" x2="68" y2="58.5" stroke="#efefef" stroke-width=".5"/>
<line x1="78.32" y1="6.3" x2="78.32" y2="58.5" stroke="#efefef" stroke-width=".5"/>
<line x1="88.64" y1="6.3" x2="88.64" y2="58.5" stroke="#efefef" stroke-width=".5"/>
<line x1="98.96" y1="6.3" x2="98.96" y2="58.5" stroke="#efefef" stroke-width=".5"/>
<line x1="109.28" y1="6.3" x2="109.28" y2="58.5" stroke="#efefef" stroke-width=".5"/>
<line x1="16.4" y1="52.7" x2="119.6" y2="52.7" stroke="#efefef" stroke-width=".5"/>
<line x1="119.6" y1="52.7" x2="152.2" y2="101.14" stroke="#f2f2f2" stroke-width=".5"/>
<line x1="16.4" y1="46.9" x2="119.6" y2="46.9" stroke="#efefef" stroke-width=".5"/>
<line x1="119.6" y1="46.9" x2="152.2" y2="94.29" stroke="#f2f2f2" stroke-width=".5"/>
<line x1="16.4" y1="41.1" x2="119.6" y2="41.1" stroke="#efefef" stroke-width=".5"/>
<line x1="119.6" y1="41.1" x2="152.2" y2="87.43" stroke="#f2f2f2" stroke-width=".5"/>
<line x1="16.4" y1="35.3" x2="119.6" y2="35.3" stroke="#efefef" stroke-width=".5"/>
<line x1="119.6" y1="35.3" x2="152.2" y2="80.58" stroke="#f2f2f2" stroke-width=".5"/>
<line x1="16.4" y1="29.5" x2="119.6" y2="29.5" stroke="#efefef" stroke-width=".5"/>
<line x1="119.6" y1="29.5" x2="152.2" y2="73.72" stroke="#f2f2f2" stroke-width=".5"/>
<line x1="16.4" y1="23.7" x2="119.6" y2="23.7" stroke="#efefef" stroke-width=".5"/>
<line x1="119.6" y1="23.7" x2="152.2" y2="66.87" stroke="#f2f2f2" stroke-width=".5"/>
<line x1="16.4" y1="17.9" x2="119.6" y2="17.9" stroke="#efefef" stroke-width=".5"/>
<line x1="119.6" y1="17.9" x2="152.2" y2="60.01" stroke="#f2f2f2" stroke-width=".5"/>
<line x1="16.4" y1="12.1" x2="119.6" y2="12.1" stroke="#efefef" stroke-width=".5"/>
<line x1="119.6" y1="12.1" x2="152.2" y2="53.16" stroke="#f2f2f2" stroke-width=".5"/>
<line x1="147.96" y1="101.57" x2="147.96" y2="41.1" stroke="#f0f0f0" stroke-width=".5"/>
<line x1="143.9" y1="95.4" x2="143.9" y2="36.12" stroke="#f0f0f0" stroke-width=".5"/>
<line x1="140.01" y1="89.49" x2="140.01" y2="31.34" stroke="#f0f0f0" stroke-width=".5"/>
<line x1="136.27" y1="83.81" x2="136.27" y2="26.75" stroke="#f0f0f0" stroke-width=".5"/>
<line x1="132.67" y1="78.35" x2="132.67" y2="22.34" stroke="#f0f0f0" stroke-width=".5"/>
<line x1="129.22" y1="73.1" x2="129.22" y2="18.1" stroke="#f0f0f0" stroke-width=".5"/>
<line x1="125.89" y1="68.05" x2="125.89" y2="14.02" stroke="#f0f0f0" stroke-width=".5"/>
<line x1="122.69" y1="63.19" x2="122.69" y2="10.09" stroke="#f0f0f0" stroke-width=".5"/>
<polyline points="16.4,58.5 16.4,6.3 119.6,6.3 152.2,46.3" fill="none" stroke="#c8c8c8" stroke-width=".7"/>
<line x1="119.6" y1="6.3" x2="119.6" y2="58.5" stroke="#e0e0e0" stroke-width=".5"/>
<polygon points="16.4,58.5 119.6,58.5 152.2,108.0 28.3,108.0" fill="#fff"/>
<path d="M16.4 58.5H119.6M16.51 58.96H119.9M16.62 59.42H120.21M16.73 59.89H120.51M16.85 60.35H120.82M16.96 60.82H121.13M17.07 61.29H121.44M17.18 61.76H121.75M17.3 62.24H122.06M17.41 62.71H122.37M17.53 63.19H122.69M17.64 63.67H123M17.76 64.15H123.32M17.87 64.63H123.64M17.99 65.11H123.95M18.11 65.6H124.27M18.22 66.08H124.59M18.34 66.57H124.92M18.46 67.06H125.24M18.58 67.56H125.56M18.7 68.05H125.89M18.82 68.55H126.22M18.94 69.05H126.55M19.06 69.55H126.88M19.18 70.05H127.21M19.3 70.55H127.54M19.42 71.06H127.87M19.54 71.57H128.21M19.66 72.08H128.54M19.79 72.59H128.88M19.91 73.1H129.22M20.03 73.62H129.56M20.16 74.14H129.9M20.28 74.65H130.24M20.41 75.18H130.58M20.54 75.7H130.93M20.66 76.23H131.27M20.79 76.75H131.62M20.92 77.28H131.97M21.04 77.82H132.32M21.17 78.35H132.67M21.3 78.89H133.03M21.43 79.42H133.38M21.56 79.96H133.74M21.69 80.51H134.09M21.82 81.05H134.45M21.95 81.6H134.81M22.08 82.15H135.17M22.22 82.7H135.54M22.35 83.25H135.9M22.48 83.81H136.27M22.62 84.36H136.63M22.75 84.92H137M22.89 85.49H137.37M23.02 86.05H137.74M23.16 86.62H138.12M23.3 87.19H138.49M23.43 87.76H138.87M23.57 88.33H139.25M23.71 88.91H139.63M23.85 89.49H140.01M23.99 90.07H140.39M24.13 90.65H140.77M24.27 91.24H141.16M24.41 91.82H141.55M24.55 92.41H141.93M24.7 93.01H142.32M24.84 93.6H142.72M24.98 94.2H143.11M25.13 94.8H143.51M25.27 95.4H143.9M25.42 96.01H144.3M25.56 96.61H144.7M25.71 97.22H145.1M25.86 97.84H145.51M26 98.45H145.91M26.15 99.07H146.32M26.3 99.69H146.73M26.45 100.31H147.14M26.6 100.94H147.55M26.75 101.57H147.96M26.91 102.2H148.38M27.06 102.83H148.8M27.21 103.47H149.22M27.36 104.11H149.64M27.52 104.75H150.06M27.67 105.39H150.48M27.83 106.04H150.91M27.99 106.69H151.34M28.14 107.34H151.77M28.3 108H152.2" stroke="#0000dc" stroke-width=".35" fill="none"/>
<line x1="17.27" y1="62.1" x2="121.97" y2="62.1" stroke="#fff" stroke-width=".7" stroke-opacity="0.25"/>
<line x1="18.47" y1="67.1" x2="125.26" y2="67.1" stroke="#fff" stroke-width=".7" stroke-opacity="0.25"/>
<line x1="19.26" y1="70.4" x2="127.44" y2="70.4" stroke="#fff" stroke-width=".7" stroke-opacity="0.2"/>
<line x1="20.46" y1="75.4" x2="130.73" y2="75.4" stroke="#fff" stroke-width=".7" stroke-opacity="0.25"/>
<line x1="21.26" y1="78.7" x2="132.9" y2="78.7" stroke="#fff" stroke-width=".7" stroke-opacity="0.25"/>
<line x1="22.05" y1="82" x2="135.08" y2="82" stroke="#fff" stroke-width=".7" stroke-opacity="0.35"/>
<line x1="22.77" y1="85" x2="137.05" y2="85" stroke="#fff" stroke-width=".7" stroke-opacity="0.3"/>
<line x1="24.09" y1="90.5" x2="140.67" y2="90.5" stroke="#fff" stroke-width=".7" stroke-opacity="0.35"/>
<line x1="24.89" y1="93.8" x2="142.85" y2="93.8" stroke="#fff" stroke-width=".7" stroke-opacity="0.4"/>
<line x1="25.56" y1="96.6" x2="144.69" y2="96.6" stroke="#fff" stroke-width=".7" stroke-opacity="0.4"/>
<line x1="26.09" y1="98.8" x2="146.14" y2="98.8" stroke="#fff" stroke-width=".7" stroke-opacity="0.3"/>
<line x1="26.76" y1="101.6" x2="147.99" y2="101.6" stroke="#fff" stroke-width=".7" stroke-opacity="0.4"/>
<line x1="27.29" y1="103.8" x2="149.43" y2="103.8" stroke="#fff" stroke-width=".7" stroke-opacity="0.4"/>
<line x1="27.82" y1="106" x2="150.88" y2="106" stroke="#fff" stroke-width=".7" stroke-opacity="0.3"/>
<line x1="16.4" y1="59.2" x2="120.1" y2="59.2" stroke="#2020f0" stroke-width="1" stroke-opacity=".35"/>
<polygon points="21.97,80 22.77,80 25.91,88.5 28.26,97 26.26,97.5" fill="#1a1cf8" opacity=".8"/>
<polygon points="26.09,88 36.5,88 34,95.5 32.7,100 31.8,105.6 29.5,105.5 27.38,100" fill="#d4d4fb" opacity=".55"/>
<polyline points="28,92 29.5,99 31.5,105" fill="none" stroke="#e8e8fe" stroke-width=".9" opacity=".8"/>
<polygon points="28.3,108.2 35.2,108.2 32.8,105.8 30.6,104.6 28.6,105" fill="#f6f6ff"/>
<polygon points="35.2,105.5 36.9,100 38.9,95.5 41.6,92 44.6,89 50.45,75 54.7,58.5 41.6,58.5 33,104" fill="#3034f0" opacity=".18"/>
<polygon points="33.9,105.5 35.6,100 37.6,95.5 40.3,92 43.3,89 49.15,75 53.4,58.5 41.6,58.5 33,104" fill="#2024f0" opacity=".3"/>
<polygon points="55,86.5 60,81 60.8,82 56,87.5" fill="#e2e2fd" opacity="0.35"/>
<polyline points="42.9,100.3 47,95.5" fill="none" stroke="#1418f0" stroke-width="0.6" stroke-linecap="round" stroke-linejoin="round" opacity="0.5"/>
<polyline points="47,95.5 56,85 83.1,58.5" fill="none" stroke="#1418f0" stroke-width="0.75" stroke-linecap="round" stroke-linejoin="round" opacity="0.95"/>
<polyline points="62.4,91.6 87.4,78.5" fill="none" stroke="#1418f0" stroke-width="0.6" stroke-linecap="round" stroke-linejoin="round" opacity="0.65"/>
<polyline points="87.4,78.5 95,74.5" fill="none" stroke="#1418f0" stroke-width="0.6" stroke-linecap="round" stroke-linejoin="round" opacity="0.3"/>
<polygon points="37.6,58.5 37.77,72 38.1,88.5 36,92 33.9,95.5 32.7,100 31.8,105.6 32.6,105.5 34.3,100 36.3,95.5 39,92 42,89 47.85,75 52.1,58.5" fill="#0505f8"/>
<polygon points="38,58.6 38.6,40 39.4,31.2 40.2,32.5 41.3,36 42.5,39 43.8,40 45.3,38 47.5,34 49.7,29.7 50.4,35 51.2,46 51.9,58.6" fill="#0000f6"/>
<line x1="28.3" y1="108.2" x2="152.2" y2="108.2" stroke="#9a9a9a" stroke-width=".6"/>
<line x1="152.6" y1="46.3" x2="152.6" y2="108.3" stroke="#555" stroke-width=".6"/>
<line x1="151.2" y1="108" x2="152.6" y2="108" stroke="#555" stroke-width=".5"/>
<line x1="151.2" y1="101.14" x2="152.6" y2="101.14" stroke="#555" stroke-width=".5"/>
<line x1="151.2" y1="94.29" x2="152.6" y2="94.29" stroke="#555" stroke-width=".5"/>
<line x1="151.2" y1="87.43" x2="152.6" y2="87.43" stroke="#555" stroke-width=".5"/>
<line x1="151.2" y1="80.58" x2="152.6" y2="80.58" stroke="#555" stroke-width=".5"/>
<line x1="151.2" y1="73.72" x2="152.6" y2="73.72" stroke="#555" stroke-width=".5"/>
<line x1="151.2" y1="66.87" x2="152.6" y2="66.87" stroke="#555" stroke-width=".5"/>
<line x1="151.2" y1="60.01" x2="152.6" y2="60.01" stroke="#555" stroke-width=".5"/>
<line x1="151.2" y1="53.16" x2="152.6" y2="53.16" stroke="#555" stroke-width=".5"/>
<line x1="151.2" y1="46.3" x2="152.6" y2="46.3" stroke="#555" stroke-width=".5"/>
<line x1="28.3" y1="108.0" x2="28.3" y2="106.8" stroke="#666" stroke-width=".5"/>
<line x1="40.69" y1="108.0" x2="40.69" y2="106.8" stroke="#666" stroke-width=".5"/>
<line x1="53.08" y1="108.0" x2="53.08" y2="106.8" stroke="#666" stroke-width=".5"/>
<line x1="65.47" y1="108.0" x2="65.47" y2="106.8" stroke="#666" stroke-width=".5"/>
<line x1="77.86" y1="108.0" x2="77.86" y2="106.8" stroke="#666" stroke-width=".5"/>
<line x1="90.25" y1="108.0" x2="90.25" y2="106.8" stroke="#666" stroke-width=".5"/>
<line x1="102.64" y1="108.0" x2="102.64" y2="106.8" stroke="#666" stroke-width=".5"/>
<line x1="115.03" y1="108.0" x2="115.03" y2="106.8" stroke="#666" stroke-width=".5"/>
<line x1="127.42" y1="108.0" x2="127.42" y2="106.8" stroke="#666" stroke-width=".5"/>
<line x1="139.81" y1="108.0" x2="139.81" y2="106.8" stroke="#666" stroke-width=".5"/>
<line x1="152.2" y1="108.0" x2="152.2" y2="106.8" stroke="#666" stroke-width=".5"/>
<text x="154.8" y="110.85" font-size="6.5">0.000</text>
<text x="154.8" y="103.99" font-size="6.5">0.002</text>
<text x="154.8" y="97.14" font-size="6.5">0.004</text>
<text x="154.8" y="90.28" font-size="6.5">0.006</text>
<text x="154.8" y="83.43" font-size="6.5">0.008</text>
<text x="154.8" y="76.57" font-size="6.5">0.010</text>
<text x="154.8" y="69.72" font-size="6.5">0.012</text>
<text x="154.8" y="62.86" font-size="6.5">0.014</text>
<text x="154.8" y="56.01" font-size="6.5">0.016</text>
<text x="154.8" y="49.15" font-size="6.5">0.018</text>
<text x="28.6" y="116.9" font-size="6.3" text-anchor="middle">0</text>
<text x="40.99" y="116.9" font-size="6.3" text-anchor="middle">100</text>
<text x="53.38" y="116.9" font-size="6.3" text-anchor="middle">200</text>
<text x="65.77" y="116.9" font-size="6.3" text-anchor="middle">300</text>
<text x="78.16" y="116.9" font-size="6.3" text-anchor="middle">400</text>
<text x="90.55" y="116.9" font-size="6.3" text-anchor="middle">500</text>
<text x="102.94" y="116.9" font-size="6.3" text-anchor="middle">600</text>
<text x="115.33" y="116.9" font-size="6.3" text-anchor="middle">700</text>
<text x="127.72" y="116.9" font-size="6.3" text-anchor="middle">800</text>
<text x="140.11" y="116.9" font-size="6.3" text-anchor="middle">900</text>
<text x="152.5" y="116.9" font-size="6.3" text-anchor="middle">1000</text>
<text x="26.9" y="110.1" font-size="6.2" text-anchor="end" style="stroke-width:.1px">2</text>
<text x="25.35" y="103.67" font-size="6.2" text-anchor="end" style="stroke-width:.1px">4</text>
<text x="23.87" y="97.5" font-size="6.2" text-anchor="end" style="stroke-width:.1px">6</text>
<text x="22.45" y="91.59" font-size="6.2" text-anchor="end" style="stroke-width:.1px">8</text>
<text x="21.08" y="85.91" font-size="6.2" text-anchor="end" style="stroke-width:.1px">10</text>
<text x="19.77" y="80.45" font-size="6.2" text-anchor="end" style="stroke-width:.1px">12</text>
<text x="18.51" y="75.2" font-size="6.2" text-anchor="end" style="stroke-width:.1px">14</text>
<text x="17.3" y="70.15" font-size="6.2" text-anchor="end" style="stroke-width:.1px">16</text>
<text x="16.13" y="65.29" font-size="6.2" text-anchor="end" style="stroke-width:.1px">18</text>
<text x="15" y="60.6" font-size="6.2" text-anchor="end" style="stroke-width:.1px">20</text>
<text x="90.75" y="124.4" font-size="6.4" text-anchor="middle">Frequency (Hz)</text>
<text transform="translate(179.3,77) rotate(-90)" font-size="6.3" text-anchor="middle">Amplitude (deg)</text>
<text transform="translate(9.15,85.65) rotate(-100.7) scale(.89,1)" y="2.2" font-size="6.3" text-anchor="middle" style="stroke-width:.08px">Speed (km/min)</text>
<text x="3.3" y="9.9" font-size="9" style="stroke-width:.35px">(f)</text>
<rect x="89.1" y="11.1" width="27.9" height="11.1" fill="#111"/>
<rect x="88" y="10.1" width="27.9" height="11.1" fill="#fff" stroke="#333" stroke-width=".5"/>
<text x="89.1" y="17.6" font-size="7" style="stroke-width:.05px"><tspan font-style="italic">k</tspan><tspan font-size="4.6" dy="1.9">p</tspan><tspan dy="-1.9">/</tspan><tspan font-style="italic">k</tspan>=0.5</text>
</g>
</g></svg></body></html>
